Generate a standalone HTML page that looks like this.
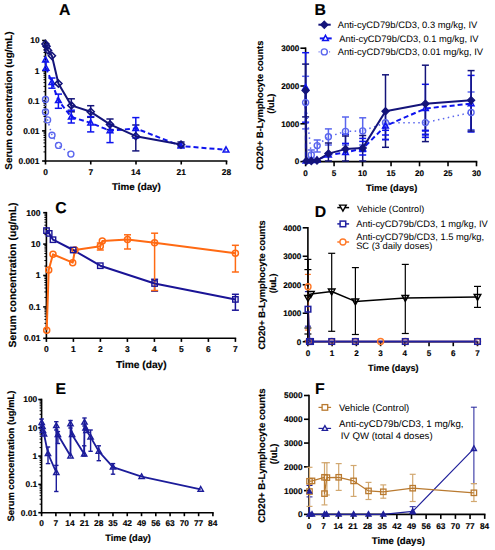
<!DOCTYPE html>
<html><head><meta charset="utf-8"><style>
html,body{margin:0;padding:0;background:#fff;}
svg{display:block;text-rendering:geometricPrecision;font-family:"Liberation Sans", sans-serif;}
text[font-weight]{stroke:#000;stroke-width:0.15px;}
</style></head><body>
<svg width="495" height="550" viewBox="0 0 495 550">
<rect width="495" height="550" fill="#fff"/>
<line x1="45.50" y1="161.80" x2="45.50" y2="39.70" stroke="#000" stroke-width="1.6" stroke-linecap="butt"/>
<line x1="44.70" y1="161.00" x2="227.30" y2="161.00" stroke="#000" stroke-width="1.6" stroke-linecap="butt"/>
<line x1="45.50" y1="161.00" x2="45.50" y2="164.50" stroke="#000" stroke-width="1.6" stroke-linecap="butt"/>
<text x="43.19" y="174.70" font-size="8.40" font-weight="bold" fill="#000" xml:space="preserve">0</text>
<line x1="90.75" y1="161.00" x2="90.75" y2="164.50" stroke="#000" stroke-width="1.6" stroke-linecap="butt"/>
<text x="88.44" y="174.70" font-size="8.40" font-weight="bold" fill="#000" xml:space="preserve">7</text>
<line x1="136.00" y1="161.00" x2="136.00" y2="164.50" stroke="#000" stroke-width="1.6" stroke-linecap="butt"/>
<text x="131.09" y="174.70" font-size="8.40" font-weight="bold" fill="#000" xml:space="preserve">14</text>
<line x1="181.25" y1="161.00" x2="181.25" y2="164.50" stroke="#000" stroke-width="1.6" stroke-linecap="butt"/>
<text x="176.59" y="174.70" font-size="8.40" font-weight="bold" fill="#000" xml:space="preserve">21</text>
<line x1="226.50" y1="161.00" x2="226.50" y2="164.50" stroke="#000" stroke-width="1.6" stroke-linecap="butt"/>
<text x="221.84" y="174.70" font-size="8.40" font-weight="bold" fill="#000" xml:space="preserve">28</text>
<line x1="45.50" y1="40.50" x2="42.10" y2="40.50" stroke="#000" stroke-width="1.6" stroke-linecap="butt"/>
<text x="30.31" y="43.44" font-size="8.40" font-weight="bold" fill="#000" xml:space="preserve">10</text>
<line x1="45.50" y1="70.62" x2="42.10" y2="70.62" stroke="#000" stroke-width="1.6" stroke-linecap="butt"/>
<text x="34.85" y="73.56" font-size="8.40" font-weight="bold" fill="#000" xml:space="preserve">1</text>
<line x1="45.50" y1="100.75" x2="42.10" y2="100.75" stroke="#000" stroke-width="1.6" stroke-linecap="butt"/>
<text x="27.88" y="103.69" font-size="8.40" font-weight="bold" fill="#000" xml:space="preserve">0.1</text>
<line x1="45.50" y1="130.88" x2="42.10" y2="130.88" stroke="#000" stroke-width="1.6" stroke-linecap="butt"/>
<text x="23.17" y="133.81" font-size="8.40" font-weight="bold" fill="#000" xml:space="preserve">0.01</text>
<line x1="45.50" y1="161.00" x2="42.10" y2="161.00" stroke="#000" stroke-width="1.6" stroke-linecap="butt"/>
<text x="18.47" y="163.94" font-size="8.40" font-weight="bold" fill="#000" xml:space="preserve">0.001</text>
<line x1="45.50" y1="151.93" x2="43.50" y2="151.93" stroke="#000" stroke-width="1" stroke-linecap="butt"/>
<line x1="45.50" y1="146.63" x2="43.50" y2="146.63" stroke="#000" stroke-width="1" stroke-linecap="butt"/>
<line x1="45.50" y1="142.86" x2="43.50" y2="142.86" stroke="#000" stroke-width="1" stroke-linecap="butt"/>
<line x1="45.50" y1="139.94" x2="43.50" y2="139.94" stroke="#000" stroke-width="1" stroke-linecap="butt"/>
<line x1="45.50" y1="137.56" x2="43.50" y2="137.56" stroke="#000" stroke-width="1" stroke-linecap="butt"/>
<line x1="45.50" y1="135.54" x2="43.50" y2="135.54" stroke="#000" stroke-width="1" stroke-linecap="butt"/>
<line x1="45.50" y1="133.79" x2="43.50" y2="133.79" stroke="#000" stroke-width="1" stroke-linecap="butt"/>
<line x1="45.50" y1="132.25" x2="43.50" y2="132.25" stroke="#000" stroke-width="1" stroke-linecap="butt"/>
<line x1="45.50" y1="121.81" x2="43.50" y2="121.81" stroke="#000" stroke-width="1" stroke-linecap="butt"/>
<line x1="45.50" y1="116.50" x2="43.50" y2="116.50" stroke="#000" stroke-width="1" stroke-linecap="butt"/>
<line x1="45.50" y1="112.74" x2="43.50" y2="112.74" stroke="#000" stroke-width="1" stroke-linecap="butt"/>
<line x1="45.50" y1="109.82" x2="43.50" y2="109.82" stroke="#000" stroke-width="1" stroke-linecap="butt"/>
<line x1="45.50" y1="107.43" x2="43.50" y2="107.43" stroke="#000" stroke-width="1" stroke-linecap="butt"/>
<line x1="45.50" y1="105.42" x2="43.50" y2="105.42" stroke="#000" stroke-width="1" stroke-linecap="butt"/>
<line x1="45.50" y1="103.67" x2="43.50" y2="103.67" stroke="#000" stroke-width="1" stroke-linecap="butt"/>
<line x1="45.50" y1="102.13" x2="43.50" y2="102.13" stroke="#000" stroke-width="1" stroke-linecap="butt"/>
<line x1="45.50" y1="91.68" x2="43.50" y2="91.68" stroke="#000" stroke-width="1" stroke-linecap="butt"/>
<line x1="45.50" y1="86.38" x2="43.50" y2="86.38" stroke="#000" stroke-width="1" stroke-linecap="butt"/>
<line x1="45.50" y1="82.61" x2="43.50" y2="82.61" stroke="#000" stroke-width="1" stroke-linecap="butt"/>
<line x1="45.50" y1="79.69" x2="43.50" y2="79.69" stroke="#000" stroke-width="1" stroke-linecap="butt"/>
<line x1="45.50" y1="77.31" x2="43.50" y2="77.31" stroke="#000" stroke-width="1" stroke-linecap="butt"/>
<line x1="45.50" y1="75.29" x2="43.50" y2="75.29" stroke="#000" stroke-width="1" stroke-linecap="butt"/>
<line x1="45.50" y1="73.54" x2="43.50" y2="73.54" stroke="#000" stroke-width="1" stroke-linecap="butt"/>
<line x1="45.50" y1="72.00" x2="43.50" y2="72.00" stroke="#000" stroke-width="1" stroke-linecap="butt"/>
<line x1="45.50" y1="61.56" x2="43.50" y2="61.56" stroke="#000" stroke-width="1" stroke-linecap="butt"/>
<line x1="45.50" y1="56.25" x2="43.50" y2="56.25" stroke="#000" stroke-width="1" stroke-linecap="butt"/>
<line x1="45.50" y1="52.49" x2="43.50" y2="52.49" stroke="#000" stroke-width="1" stroke-linecap="butt"/>
<line x1="45.50" y1="49.57" x2="43.50" y2="49.57" stroke="#000" stroke-width="1" stroke-linecap="butt"/>
<line x1="45.50" y1="47.18" x2="43.50" y2="47.18" stroke="#000" stroke-width="1" stroke-linecap="butt"/>
<line x1="45.50" y1="45.17" x2="43.50" y2="45.17" stroke="#000" stroke-width="1" stroke-linecap="butt"/>
<line x1="45.50" y1="43.42" x2="43.50" y2="43.42" stroke="#000" stroke-width="1" stroke-linecap="butt"/>
<line x1="45.50" y1="41.88" x2="43.50" y2="41.88" stroke="#000" stroke-width="1" stroke-linecap="butt"/>
<text x="111.90" y="190.40" font-size="9.84" font-weight="bold" fill="#000" xml:space="preserve">Time (day)</text>
<text x="12.00" y="169.73" font-size="9.93" font-weight="bold" fill="#000" transform="rotate(-90 12.00 169.73)" xml:space="preserve">Serum concentration (ug/mL)</text>
<text x="59.03" y="15.10" font-size="15.80" font-weight="bold" fill="#000" xml:space="preserve">A</text>
<line x1="71.30" y1="98.80" x2="71.30" y2="111.80" stroke="#14147a" stroke-width="1.5" stroke-linecap="butt"/>
<line x1="67.70" y1="98.80" x2="74.90" y2="98.80" stroke="#14147a" stroke-width="1.5" stroke-linecap="butt"/>
<line x1="67.70" y1="111.80" x2="74.90" y2="111.80" stroke="#14147a" stroke-width="1.5" stroke-linecap="butt"/>
<line x1="90.70" y1="105.70" x2="90.70" y2="117.30" stroke="#14147a" stroke-width="1.5" stroke-linecap="butt"/>
<line x1="87.10" y1="105.70" x2="94.30" y2="105.70" stroke="#14147a" stroke-width="1.5" stroke-linecap="butt"/>
<line x1="87.10" y1="117.30" x2="94.30" y2="117.30" stroke="#14147a" stroke-width="1.5" stroke-linecap="butt"/>
<line x1="110.00" y1="119.00" x2="110.00" y2="129.60" stroke="#14147a" stroke-width="1.5" stroke-linecap="butt"/>
<line x1="106.40" y1="119.00" x2="113.60" y2="119.00" stroke="#14147a" stroke-width="1.5" stroke-linecap="butt"/>
<line x1="106.40" y1="129.60" x2="113.60" y2="129.60" stroke="#14147a" stroke-width="1.5" stroke-linecap="butt"/>
<line x1="135.80" y1="125.00" x2="135.80" y2="150.90" stroke="#14147a" stroke-width="1.5" stroke-linecap="butt"/>
<line x1="132.20" y1="125.00" x2="139.40" y2="125.00" stroke="#14147a" stroke-width="1.5" stroke-linecap="butt"/>
<line x1="132.20" y1="150.90" x2="139.40" y2="150.90" stroke="#14147a" stroke-width="1.5" stroke-linecap="butt"/>
<line x1="181.00" y1="142.00" x2="181.00" y2="147.00" stroke="#14147a" stroke-width="1.5" stroke-linecap="butt"/>
<line x1="177.40" y1="142.00" x2="184.60" y2="142.00" stroke="#14147a" stroke-width="1.5" stroke-linecap="butt"/>
<line x1="177.40" y1="147.00" x2="184.60" y2="147.00" stroke="#14147a" stroke-width="1.5" stroke-linecap="butt"/>
<line x1="51.90" y1="78.00" x2="51.90" y2="88.20" stroke="#0f14ee" stroke-width="1.5" stroke-linecap="butt"/>
<line x1="48.30" y1="78.00" x2="55.50" y2="78.00" stroke="#0f14ee" stroke-width="1.5" stroke-linecap="butt"/>
<line x1="48.30" y1="88.20" x2="55.50" y2="88.20" stroke="#0f14ee" stroke-width="1.5" stroke-linecap="butt"/>
<line x1="58.40" y1="94.10" x2="58.40" y2="108.30" stroke="#0f14ee" stroke-width="1.5" stroke-linecap="butt"/>
<line x1="54.80" y1="94.10" x2="62.00" y2="94.10" stroke="#0f14ee" stroke-width="1.5" stroke-linecap="butt"/>
<line x1="54.80" y1="108.30" x2="62.00" y2="108.30" stroke="#0f14ee" stroke-width="1.5" stroke-linecap="butt"/>
<line x1="71.30" y1="110.20" x2="71.30" y2="123.00" stroke="#0f14ee" stroke-width="1.5" stroke-linecap="butt"/>
<line x1="67.70" y1="110.20" x2="74.90" y2="110.20" stroke="#0f14ee" stroke-width="1.5" stroke-linecap="butt"/>
<line x1="67.70" y1="123.00" x2="74.90" y2="123.00" stroke="#0f14ee" stroke-width="1.5" stroke-linecap="butt"/>
<line x1="90.70" y1="116.60" x2="90.70" y2="131.90" stroke="#0f14ee" stroke-width="1.5" stroke-linecap="butt"/>
<line x1="87.10" y1="116.60" x2="94.30" y2="116.60" stroke="#0f14ee" stroke-width="1.5" stroke-linecap="butt"/>
<line x1="87.10" y1="131.90" x2="94.30" y2="131.90" stroke="#0f14ee" stroke-width="1.5" stroke-linecap="butt"/>
<line x1="110.00" y1="124.40" x2="110.00" y2="142.60" stroke="#0f14ee" stroke-width="1.5" stroke-linecap="butt"/>
<line x1="106.40" y1="124.40" x2="113.60" y2="124.40" stroke="#0f14ee" stroke-width="1.5" stroke-linecap="butt"/>
<line x1="106.40" y1="142.60" x2="113.60" y2="142.60" stroke="#0f14ee" stroke-width="1.5" stroke-linecap="butt"/>
<line x1="135.80" y1="117.60" x2="135.80" y2="138.00" stroke="#0f14ee" stroke-width="1.5" stroke-linecap="butt"/>
<line x1="132.20" y1="117.60" x2="139.40" y2="117.60" stroke="#0f14ee" stroke-width="1.5" stroke-linecap="butt"/>
<line x1="132.20" y1="138.00" x2="139.40" y2="138.00" stroke="#0f14ee" stroke-width="1.5" stroke-linecap="butt"/>
<polyline points="45.50,99.50 45.50,111.90 47.60,119.90 52.00,135.20 58.50,145.40 70.90,154.10" fill="none" stroke="#5a66ee" stroke-width="1.5" stroke-linecap="butt" stroke-linejoin="round" stroke-dasharray="1.5,3.5"/>
<polyline points="45.50,59.80 46.00,68.10 51.90,82.30 58.40,100.50 71.30,117.00 90.70,122.90 110.00,130.70 135.80,128.40 181.00,146.00 226.00,149.80" fill="none" stroke="#0f14ee" stroke-width="2" stroke-linecap="butt" stroke-linejoin="round" stroke-dasharray="5,3"/>
<polyline points="45.50,44.00 46.50,46.30 48.00,50.40 51.90,55.80 58.40,83.50 71.30,105.40 90.70,111.80 110.00,124.40 135.80,136.20 181.00,144.60" fill="none" stroke="#14147a" stroke-width="2" stroke-linecap="butt" stroke-linejoin="round"/>
<circle cx="45.50" cy="99.50" r="3.0" fill="none" stroke="#5a66ee" stroke-width="1.4"/>
<circle cx="45.50" cy="111.90" r="3.0" fill="none" stroke="#5a66ee" stroke-width="1.4"/>
<circle cx="47.60" cy="119.90" r="3.0" fill="none" stroke="#5a66ee" stroke-width="1.4"/>
<circle cx="52.00" cy="135.20" r="3.0" fill="none" stroke="#5a66ee" stroke-width="1.4"/>
<circle cx="58.50" cy="145.40" r="3.0" fill="none" stroke="#5a66ee" stroke-width="1.4"/>
<circle cx="70.90" cy="154.10" r="3.0" fill="none" stroke="#5a66ee" stroke-width="1.4"/>
<polygon points="45.50,56.80 48.35,61.90 42.65,61.90" fill="none" stroke="#0f14ee" stroke-width="1.5"/>
<polygon points="46.00,65.10 48.85,70.20 43.15,70.20" fill="none" stroke="#0f14ee" stroke-width="1.5"/>
<polygon points="51.90,79.30 54.75,84.40 49.05,84.40" fill="none" stroke="#0f14ee" stroke-width="1.5"/>
<polygon points="58.40,97.50 61.25,102.60 55.55,102.60" fill="none" stroke="#0f14ee" stroke-width="1.5"/>
<polygon points="71.30,114.00 74.15,119.10 68.45,119.10" fill="none" stroke="#0f14ee" stroke-width="1.5"/>
<polygon points="90.70,119.90 93.55,125.00 87.85,125.00" fill="none" stroke="#0f14ee" stroke-width="1.5"/>
<polygon points="110.00,127.70 112.85,132.80 107.15,132.80" fill="none" stroke="#0f14ee" stroke-width="1.5"/>
<polygon points="135.80,125.40 138.65,130.50 132.95,130.50" fill="none" stroke="#0f14ee" stroke-width="1.5"/>
<polygon points="181.00,143.00 183.85,148.10 178.15,148.10" fill="none" stroke="#0f14ee" stroke-width="1.5"/>
<polygon points="226.00,146.80 228.85,151.90 223.15,151.90" fill="none" stroke="#0f14ee" stroke-width="1.5"/>
<polygon points="45.50,40.50 49.00,44.00 45.50,47.50 42.00,44.00" fill="none" stroke="#14147a" stroke-width="1.6"/>
<polygon points="46.50,42.80 50.00,46.30 46.50,49.80 43.00,46.30" fill="none" stroke="#14147a" stroke-width="1.6"/>
<polygon points="48.00,46.90 51.50,50.40 48.00,53.90 44.50,50.40" fill="none" stroke="#14147a" stroke-width="1.6"/>
<polygon points="51.90,52.30 55.40,55.80 51.90,59.30 48.40,55.80" fill="none" stroke="#14147a" stroke-width="1.6"/>
<polygon points="58.40,80.00 61.90,83.50 58.40,87.00 54.90,83.50" fill="none" stroke="#14147a" stroke-width="1.6"/>
<polygon points="71.30,101.90 74.80,105.40 71.30,108.90 67.80,105.40" fill="none" stroke="#14147a" stroke-width="1.6"/>
<polygon points="90.70,108.30 94.20,111.80 90.70,115.30 87.20,111.80" fill="none" stroke="#14147a" stroke-width="1.6"/>
<polygon points="110.00,120.90 113.50,124.40 110.00,127.90 106.50,124.40" fill="none" stroke="#14147a" stroke-width="1.6"/>
<polygon points="135.80,132.70 139.30,136.20 135.80,139.70 132.30,136.20" fill="none" stroke="#14147a" stroke-width="1.6"/>
<polygon points="181.00,141.10 184.50,144.60 181.00,148.10 177.50,144.60" fill="none" stroke="#14147a" stroke-width="1.6"/>
<line x1="305.60" y1="162.40" x2="305.60" y2="47.40" stroke="#000" stroke-width="1.6" stroke-linecap="butt"/>
<line x1="304.80" y1="161.60" x2="477.30" y2="161.60" stroke="#000" stroke-width="1.6" stroke-linecap="butt"/>
<line x1="305.60" y1="161.60" x2="305.60" y2="166.30" stroke="#000" stroke-width="1.6" stroke-linecap="butt"/>
<text x="303.37" y="175.80" font-size="8.10" font-weight="bold" fill="#000" xml:space="preserve">0</text>
<line x1="334.08" y1="161.60" x2="334.08" y2="166.30" stroke="#000" stroke-width="1.6" stroke-linecap="butt"/>
<text x="331.82" y="175.80" font-size="8.10" font-weight="bold" fill="#000" xml:space="preserve">5</text>
<line x1="362.57" y1="161.60" x2="362.57" y2="166.30" stroke="#000" stroke-width="1.6" stroke-linecap="butt"/>
<text x="357.99" y="175.80" font-size="8.10" font-weight="bold" fill="#000" xml:space="preserve">10</text>
<line x1="391.05" y1="161.60" x2="391.05" y2="166.30" stroke="#000" stroke-width="1.6" stroke-linecap="butt"/>
<text x="386.43" y="175.80" font-size="8.10" font-weight="bold" fill="#000" xml:space="preserve">15</text>
<line x1="419.53" y1="161.60" x2="419.53" y2="166.30" stroke="#000" stroke-width="1.6" stroke-linecap="butt"/>
<text x="415.08" y="175.80" font-size="8.10" font-weight="bold" fill="#000" xml:space="preserve">20</text>
<line x1="448.02" y1="161.60" x2="448.02" y2="166.30" stroke="#000" stroke-width="1.6" stroke-linecap="butt"/>
<text x="443.52" y="175.80" font-size="8.10" font-weight="bold" fill="#000" xml:space="preserve">25</text>
<line x1="476.50" y1="161.60" x2="476.50" y2="166.30" stroke="#000" stroke-width="1.6" stroke-linecap="butt"/>
<text x="472.05" y="175.80" font-size="8.10" font-weight="bold" fill="#000" xml:space="preserve">30</text>
<line x1="305.60" y1="161.60" x2="300.40" y2="161.60" stroke="#000" stroke-width="1.6" stroke-linecap="butt"/>
<text x="294.67" y="164.44" font-size="8.10" font-weight="bold" fill="#000" xml:space="preserve">0</text>
<line x1="305.60" y1="123.80" x2="300.40" y2="123.80" stroke="#000" stroke-width="1.6" stroke-linecap="butt"/>
<text x="281.14" y="126.63" font-size="8.10" font-weight="bold" fill="#000" xml:space="preserve">1000</text>
<line x1="305.60" y1="86.00" x2="300.40" y2="86.00" stroke="#000" stroke-width="1.6" stroke-linecap="butt"/>
<text x="281.14" y="88.83" font-size="8.10" font-weight="bold" fill="#000" xml:space="preserve">2000</text>
<line x1="305.60" y1="48.20" x2="300.40" y2="48.20" stroke="#000" stroke-width="1.6" stroke-linecap="butt"/>
<text x="281.14" y="51.03" font-size="8.10" font-weight="bold" fill="#000" xml:space="preserve">3000</text>
<text x="365.91" y="190.60" font-size="9.27" font-weight="bold" fill="#000" xml:space="preserve">Time (days)</text>
<text x="263.40" y="169.71" font-size="9.30" font-weight="bold" fill="#000" transform="rotate(-90 263.40 169.71)" xml:space="preserve">CD20+ B-Lymphocyte counts</text>
<text x="274.30" y="113.69" font-size="9.30" font-weight="bold" fill="#000" transform="rotate(-90 274.30 113.69)" xml:space="preserve">(/uL)</text>
<text x="314.49" y="15.10" font-size="15.80" font-weight="bold" fill="#000" xml:space="preserve">B</text>
<line x1="318.40" y1="24.70" x2="330.70" y2="24.70" stroke="#14147a" stroke-width="2" stroke-linecap="butt"/>
<polygon points="324.30,21.10 327.90,24.70 324.30,28.30 320.70,24.70" fill="#14147a" stroke="#14147a" stroke-width="1.2"/>
<line x1="319.80" y1="38.40" x2="331.70" y2="38.40" stroke="#0f14ee" stroke-width="2" stroke-linecap="butt"/>
<polygon points="325.50,35.40 328.35,40.50 322.65,40.50" fill="#fff" stroke="#0f14ee" stroke-width="1.5"/>
<line x1="318.60" y1="51.90" x2="331.00" y2="51.90" stroke="#5a66ee" stroke-width="1.2" stroke-linecap="butt" stroke-dasharray="1,2.5"/>
<circle cx="324.30" cy="51.90" r="3.0" fill="#fff" stroke="#5a66ee" stroke-width="1.4"/>
<text x="337.70" y="28.00" font-size="9.39" fill="#000" xml:space="preserve">Anti-cyCD79b/CD3, 0.3 mg/kg, IV</text>
<text x="339.30" y="41.70" font-size="9.35" fill="#000" xml:space="preserve">Anti-cyCD79b/CD3, 0.1 mg/kg, IV</text>
<text x="337.70" y="54.60" font-size="9.42" fill="#000" xml:space="preserve">Anti-cyCD79b/CD3, 0.01 mg/kg, IV</text>
<line x1="305.60" y1="76.30" x2="305.60" y2="128.90" stroke="#5a66ee" stroke-width="1.5" stroke-linecap="butt"/>
<line x1="302.10" y1="76.30" x2="309.10" y2="76.30" stroke="#5a66ee" stroke-width="1.5" stroke-linecap="butt"/>
<line x1="302.10" y1="128.90" x2="309.10" y2="128.90" stroke="#5a66ee" stroke-width="1.5" stroke-linecap="butt"/>
<line x1="311.30" y1="150.00" x2="311.30" y2="158.00" stroke="#5a66ee" stroke-width="1.5" stroke-linecap="butt"/>
<line x1="307.80" y1="150.00" x2="314.80" y2="150.00" stroke="#5a66ee" stroke-width="1.5" stroke-linecap="butt"/>
<line x1="307.80" y1="158.00" x2="314.80" y2="158.00" stroke="#5a66ee" stroke-width="1.5" stroke-linecap="butt"/>
<line x1="317.20" y1="140.00" x2="317.20" y2="152.00" stroke="#5a66ee" stroke-width="1.5" stroke-linecap="butt"/>
<line x1="313.70" y1="140.00" x2="320.70" y2="140.00" stroke="#5a66ee" stroke-width="1.5" stroke-linecap="butt"/>
<line x1="313.70" y1="152.00" x2="320.70" y2="152.00" stroke="#5a66ee" stroke-width="1.5" stroke-linecap="butt"/>
<line x1="328.40" y1="128.90" x2="328.40" y2="145.00" stroke="#5a66ee" stroke-width="1.5" stroke-linecap="butt"/>
<line x1="324.90" y1="128.90" x2="331.90" y2="128.90" stroke="#5a66ee" stroke-width="1.5" stroke-linecap="butt"/>
<line x1="324.90" y1="145.00" x2="331.90" y2="145.00" stroke="#5a66ee" stroke-width="1.5" stroke-linecap="butt"/>
<line x1="345.50" y1="117.00" x2="345.50" y2="145.00" stroke="#5a66ee" stroke-width="1.5" stroke-linecap="butt"/>
<line x1="342.00" y1="117.00" x2="349.00" y2="117.00" stroke="#5a66ee" stroke-width="1.5" stroke-linecap="butt"/>
<line x1="342.00" y1="145.00" x2="349.00" y2="145.00" stroke="#5a66ee" stroke-width="1.5" stroke-linecap="butt"/>
<line x1="362.70" y1="117.80" x2="362.70" y2="145.00" stroke="#5a66ee" stroke-width="1.5" stroke-linecap="butt"/>
<line x1="359.20" y1="117.80" x2="366.20" y2="117.80" stroke="#5a66ee" stroke-width="1.5" stroke-linecap="butt"/>
<line x1="359.20" y1="145.00" x2="366.20" y2="145.00" stroke="#5a66ee" stroke-width="1.5" stroke-linecap="butt"/>
<line x1="425.40" y1="110.00" x2="425.40" y2="135.60" stroke="#5a66ee" stroke-width="1.5" stroke-linecap="butt"/>
<line x1="421.90" y1="110.00" x2="428.90" y2="110.00" stroke="#5a66ee" stroke-width="1.5" stroke-linecap="butt"/>
<line x1="421.90" y1="135.60" x2="428.90" y2="135.60" stroke="#5a66ee" stroke-width="1.5" stroke-linecap="butt"/>
<line x1="471.10" y1="92.00" x2="471.10" y2="129.70" stroke="#5a66ee" stroke-width="1.5" stroke-linecap="butt"/>
<line x1="467.60" y1="92.00" x2="474.60" y2="92.00" stroke="#5a66ee" stroke-width="1.5" stroke-linecap="butt"/>
<line x1="467.60" y1="129.70" x2="474.60" y2="129.70" stroke="#5a66ee" stroke-width="1.5" stroke-linecap="butt"/>
<line x1="305.60" y1="52.70" x2="305.60" y2="122.20" stroke="#0f14ee" stroke-width="1.5" stroke-linecap="butt"/>
<line x1="302.10" y1="52.70" x2="309.10" y2="52.70" stroke="#0f14ee" stroke-width="1.5" stroke-linecap="butt"/>
<line x1="302.10" y1="122.20" x2="309.10" y2="122.20" stroke="#0f14ee" stroke-width="1.5" stroke-linecap="butt"/>
<line x1="385.50" y1="111.00" x2="385.50" y2="139.70" stroke="#0f14ee" stroke-width="1.5" stroke-linecap="butt"/>
<line x1="382.00" y1="111.00" x2="389.00" y2="111.00" stroke="#0f14ee" stroke-width="1.5" stroke-linecap="butt"/>
<line x1="382.00" y1="139.70" x2="389.00" y2="139.70" stroke="#0f14ee" stroke-width="1.5" stroke-linecap="butt"/>
<line x1="425.40" y1="84.30" x2="425.40" y2="131.00" stroke="#0f14ee" stroke-width="1.5" stroke-linecap="butt"/>
<line x1="421.90" y1="84.30" x2="428.90" y2="84.30" stroke="#0f14ee" stroke-width="1.5" stroke-linecap="butt"/>
<line x1="421.90" y1="131.00" x2="428.90" y2="131.00" stroke="#0f14ee" stroke-width="1.5" stroke-linecap="butt"/>
<line x1="471.10" y1="75.40" x2="471.10" y2="132.00" stroke="#0f14ee" stroke-width="1.5" stroke-linecap="butt"/>
<line x1="467.60" y1="75.40" x2="474.60" y2="75.40" stroke="#0f14ee" stroke-width="1.5" stroke-linecap="butt"/>
<line x1="467.60" y1="132.00" x2="474.60" y2="132.00" stroke="#0f14ee" stroke-width="1.5" stroke-linecap="butt"/>
<line x1="305.60" y1="64.10" x2="305.60" y2="116.90" stroke="#14147a" stroke-width="1.5" stroke-linecap="butt"/>
<line x1="302.10" y1="64.10" x2="309.10" y2="64.10" stroke="#14147a" stroke-width="1.5" stroke-linecap="butt"/>
<line x1="302.10" y1="116.90" x2="309.10" y2="116.90" stroke="#14147a" stroke-width="1.5" stroke-linecap="butt"/>
<line x1="328.40" y1="143.00" x2="328.40" y2="161.00" stroke="#14147a" stroke-width="1.5" stroke-linecap="butt"/>
<line x1="324.90" y1="143.00" x2="331.90" y2="143.00" stroke="#14147a" stroke-width="1.5" stroke-linecap="butt"/>
<line x1="324.90" y1="161.00" x2="331.90" y2="161.00" stroke="#14147a" stroke-width="1.5" stroke-linecap="butt"/>
<line x1="345.50" y1="136.00" x2="345.50" y2="161.00" stroke="#14147a" stroke-width="1.5" stroke-linecap="butt"/>
<line x1="342.00" y1="136.00" x2="349.00" y2="136.00" stroke="#14147a" stroke-width="1.5" stroke-linecap="butt"/>
<line x1="342.00" y1="161.00" x2="349.00" y2="161.00" stroke="#14147a" stroke-width="1.5" stroke-linecap="butt"/>
<line x1="362.70" y1="135.50" x2="362.70" y2="161.00" stroke="#14147a" stroke-width="1.5" stroke-linecap="butt"/>
<line x1="359.20" y1="135.50" x2="366.20" y2="135.50" stroke="#14147a" stroke-width="1.5" stroke-linecap="butt"/>
<line x1="359.20" y1="161.00" x2="366.20" y2="161.00" stroke="#14147a" stroke-width="1.5" stroke-linecap="butt"/>
<line x1="385.50" y1="74.80" x2="385.50" y2="147.30" stroke="#14147a" stroke-width="1.5" stroke-linecap="butt"/>
<line x1="382.00" y1="74.80" x2="389.00" y2="74.80" stroke="#14147a" stroke-width="1.5" stroke-linecap="butt"/>
<line x1="382.00" y1="147.30" x2="389.00" y2="147.30" stroke="#14147a" stroke-width="1.5" stroke-linecap="butt"/>
<line x1="425.40" y1="65.20" x2="425.40" y2="141.60" stroke="#14147a" stroke-width="1.5" stroke-linecap="butt"/>
<line x1="421.90" y1="65.20" x2="428.90" y2="65.20" stroke="#14147a" stroke-width="1.5" stroke-linecap="butt"/>
<line x1="421.90" y1="141.60" x2="428.90" y2="141.60" stroke="#14147a" stroke-width="1.5" stroke-linecap="butt"/>
<line x1="471.10" y1="70.60" x2="471.10" y2="131.00" stroke="#14147a" stroke-width="1.5" stroke-linecap="butt"/>
<line x1="467.60" y1="70.60" x2="474.60" y2="70.60" stroke="#14147a" stroke-width="1.5" stroke-linecap="butt"/>
<line x1="467.60" y1="131.00" x2="474.60" y2="131.00" stroke="#14147a" stroke-width="1.5" stroke-linecap="butt"/>
<line x1="342.00" y1="134.30" x2="349.00" y2="134.30" stroke="#0f14ee" stroke-width="1.5" stroke-linecap="butt"/>
<line x1="342.00" y1="143.40" x2="349.00" y2="143.40" stroke="#0f14ee" stroke-width="1.5" stroke-linecap="butt"/>
<line x1="359.20" y1="138.40" x2="366.20" y2="138.40" stroke="#0f14ee" stroke-width="1.5" stroke-linecap="butt"/>
<line x1="359.20" y1="141.40" x2="366.20" y2="141.40" stroke="#0f14ee" stroke-width="1.5" stroke-linecap="butt"/>
<line x1="359.20" y1="151.50" x2="366.20" y2="151.50" stroke="#0f14ee" stroke-width="1.5" stroke-linecap="butt"/>
<line x1="359.20" y1="155.00" x2="366.20" y2="155.00" stroke="#0f14ee" stroke-width="1.5" stroke-linecap="butt"/>
<line x1="382.00" y1="130.30" x2="389.00" y2="130.30" stroke="#0f14ee" stroke-width="1.5" stroke-linecap="butt"/>
<line x1="382.00" y1="135.00" x2="389.00" y2="135.00" stroke="#0f14ee" stroke-width="1.5" stroke-linecap="butt"/>
<line x1="382.00" y1="139.40" x2="389.00" y2="139.40" stroke="#0f14ee" stroke-width="1.5" stroke-linecap="butt"/>
<line x1="421.90" y1="130.30" x2="428.90" y2="130.30" stroke="#0f14ee" stroke-width="1.5" stroke-linecap="butt"/>
<line x1="421.90" y1="134.30" x2="428.90" y2="134.30" stroke="#0f14ee" stroke-width="1.5" stroke-linecap="butt"/>
<line x1="421.90" y1="137.40" x2="428.90" y2="137.40" stroke="#0f14ee" stroke-width="1.5" stroke-linecap="butt"/>
<polyline points="305.60,102.60 311.30,154.90 317.20,145.60 328.40,136.70 345.50,131.40 362.70,130.90 385.50,122.80 425.40,122.60 471.10,112.50" fill="none" stroke="#5a66ee" stroke-width="1.5" stroke-linecap="butt" stroke-linejoin="round" stroke-dasharray="1.5,3.5"/>
<polyline points="305.60,87.50 306.00,161.00 311.30,160.50 317.00,160.00 328.40,154.90 345.50,152.40 362.70,148.60 385.50,125.90 425.40,108.50 471.10,103.70" fill="none" stroke="#0f14ee" stroke-width="2" stroke-linecap="butt" stroke-linejoin="round" stroke-dasharray="5,3"/>
<polyline points="305.60,90.50 306.50,161.00 311.30,161.00 317.00,160.50 328.40,153.60 345.50,149.10 362.70,148.10 385.50,111.20 425.40,103.70 471.10,100.20" fill="none" stroke="#14147a" stroke-width="2" stroke-linecap="butt" stroke-linejoin="round"/>
<circle cx="305.60" cy="102.60" r="3.0" fill="none" stroke="#5a66ee" stroke-width="1.4"/>
<circle cx="311.30" cy="154.90" r="3.0" fill="none" stroke="#5a66ee" stroke-width="1.4"/>
<circle cx="317.20" cy="145.60" r="3.0" fill="none" stroke="#5a66ee" stroke-width="1.4"/>
<circle cx="328.40" cy="136.70" r="3.0" fill="none" stroke="#5a66ee" stroke-width="1.4"/>
<circle cx="345.50" cy="131.40" r="3.0" fill="none" stroke="#5a66ee" stroke-width="1.4"/>
<circle cx="362.70" cy="130.90" r="3.0" fill="none" stroke="#5a66ee" stroke-width="1.4"/>
<circle cx="385.50" cy="122.80" r="3.0" fill="none" stroke="#5a66ee" stroke-width="1.4"/>
<circle cx="425.40" cy="122.60" r="3.0" fill="none" stroke="#5a66ee" stroke-width="1.4"/>
<circle cx="471.10" cy="112.50" r="3.0" fill="none" stroke="#5a66ee" stroke-width="1.4"/>
<polygon points="305.60,84.50 308.45,89.60 302.75,89.60" fill="none" stroke="#0f14ee" stroke-width="1.5"/>
<polygon points="306.00,158.00 308.85,163.10 303.15,163.10" fill="none" stroke="#0f14ee" stroke-width="1.5"/>
<polygon points="311.30,157.50 314.15,162.60 308.45,162.60" fill="none" stroke="#0f14ee" stroke-width="1.5"/>
<polygon points="317.00,157.00 319.85,162.10 314.15,162.10" fill="none" stroke="#0f14ee" stroke-width="1.5"/>
<polygon points="328.40,151.90 331.25,157.00 325.55,157.00" fill="none" stroke="#0f14ee" stroke-width="1.5"/>
<polygon points="345.50,149.40 348.35,154.50 342.65,154.50" fill="none" stroke="#0f14ee" stroke-width="1.5"/>
<polygon points="362.70,145.60 365.55,150.70 359.85,150.70" fill="none" stroke="#0f14ee" stroke-width="1.5"/>
<polygon points="385.50,122.90 388.35,128.00 382.65,128.00" fill="none" stroke="#0f14ee" stroke-width="1.5"/>
<polygon points="425.40,105.50 428.25,110.60 422.55,110.60" fill="none" stroke="#0f14ee" stroke-width="1.5"/>
<polygon points="471.10,100.70 473.95,105.80 468.25,105.80" fill="none" stroke="#0f14ee" stroke-width="1.5"/>
<polygon points="305.60,86.90 309.20,90.50 305.60,94.10 302.00,90.50" fill="#14147a" stroke="#14147a" stroke-width="1.2"/>
<polygon points="306.50,157.40 310.10,161.00 306.50,164.60 302.90,161.00" fill="#14147a" stroke="#14147a" stroke-width="1.2"/>
<polygon points="311.30,157.40 314.90,161.00 311.30,164.60 307.70,161.00" fill="#14147a" stroke="#14147a" stroke-width="1.2"/>
<polygon points="317.00,156.90 320.60,160.50 317.00,164.10 313.40,160.50" fill="#14147a" stroke="#14147a" stroke-width="1.2"/>
<polygon points="328.40,150.00 332.00,153.60 328.40,157.20 324.80,153.60" fill="#14147a" stroke="#14147a" stroke-width="1.2"/>
<polygon points="345.50,145.50 349.10,149.10 345.50,152.70 341.90,149.10" fill="#14147a" stroke="#14147a" stroke-width="1.2"/>
<polygon points="362.70,144.50 366.30,148.10 362.70,151.70 359.10,148.10" fill="#14147a" stroke="#14147a" stroke-width="1.2"/>
<polygon points="385.50,107.60 389.10,111.20 385.50,114.80 381.90,111.20" fill="#14147a" stroke="#14147a" stroke-width="1.2"/>
<polygon points="425.40,100.10 429.00,103.70 425.40,107.30 421.80,103.70" fill="#14147a" stroke="#14147a" stroke-width="1.2"/>
<polygon points="471.10,96.60 474.70,100.20 471.10,103.80 467.50,100.20" fill="#14147a" stroke="#14147a" stroke-width="1.2"/>
<line x1="46.40" y1="339.10" x2="46.40" y2="211.90" stroke="#000" stroke-width="1.6" stroke-linecap="butt"/>
<line x1="45.60" y1="338.30" x2="236.20" y2="338.30" stroke="#000" stroke-width="1.6" stroke-linecap="butt"/>
<line x1="46.40" y1="338.30" x2="46.40" y2="341.90" stroke="#000" stroke-width="1.6" stroke-linecap="butt"/>
<text x="44.06" y="351.80" font-size="8.50" font-weight="bold" fill="#000" xml:space="preserve">0</text>
<line x1="73.40" y1="338.30" x2="73.40" y2="341.90" stroke="#000" stroke-width="1.6" stroke-linecap="butt"/>
<text x="70.89" y="351.80" font-size="8.50" font-weight="bold" fill="#000" xml:space="preserve">1</text>
<line x1="100.40" y1="338.30" x2="100.40" y2="341.90" stroke="#000" stroke-width="1.6" stroke-linecap="butt"/>
<text x="98.06" y="351.80" font-size="8.50" font-weight="bold" fill="#000" xml:space="preserve">2</text>
<line x1="127.40" y1="338.30" x2="127.40" y2="341.90" stroke="#000" stroke-width="1.6" stroke-linecap="butt"/>
<text x="125.06" y="351.80" font-size="8.50" font-weight="bold" fill="#000" xml:space="preserve">3</text>
<line x1="154.40" y1="338.30" x2="154.40" y2="341.90" stroke="#000" stroke-width="1.6" stroke-linecap="butt"/>
<text x="151.98" y="351.80" font-size="8.50" font-weight="bold" fill="#000" xml:space="preserve">4</text>
<line x1="181.40" y1="338.30" x2="181.40" y2="341.90" stroke="#000" stroke-width="1.6" stroke-linecap="butt"/>
<text x="179.02" y="351.80" font-size="8.50" font-weight="bold" fill="#000" xml:space="preserve">5</text>
<line x1="208.40" y1="338.30" x2="208.40" y2="341.90" stroke="#000" stroke-width="1.6" stroke-linecap="butt"/>
<text x="206.02" y="351.80" font-size="8.50" font-weight="bold" fill="#000" xml:space="preserve">6</text>
<line x1="235.40" y1="338.30" x2="235.40" y2="341.90" stroke="#000" stroke-width="1.6" stroke-linecap="butt"/>
<text x="233.06" y="351.80" font-size="8.50" font-weight="bold" fill="#000" xml:space="preserve">7</text>
<line x1="46.40" y1="212.70" x2="43.20" y2="212.70" stroke="#000" stroke-width="1.6" stroke-linecap="butt"/>
<text x="26.35" y="215.67" font-size="8.50" font-weight="bold" fill="#000" xml:space="preserve">100</text>
<line x1="46.40" y1="244.10" x2="43.20" y2="244.10" stroke="#000" stroke-width="1.6" stroke-linecap="butt"/>
<text x="31.11" y="247.07" font-size="8.50" font-weight="bold" fill="#000" xml:space="preserve">10</text>
<line x1="46.40" y1="275.50" x2="43.20" y2="275.50" stroke="#000" stroke-width="1.6" stroke-linecap="butt"/>
<text x="35.70" y="278.48" font-size="8.50" font-weight="bold" fill="#000" xml:space="preserve">1</text>
<line x1="46.40" y1="306.90" x2="43.20" y2="306.90" stroke="#000" stroke-width="1.6" stroke-linecap="butt"/>
<text x="28.64" y="309.88" font-size="8.50" font-weight="bold" fill="#000" xml:space="preserve">0.1</text>
<line x1="46.40" y1="338.30" x2="43.20" y2="338.30" stroke="#000" stroke-width="1.6" stroke-linecap="butt"/>
<text x="23.88" y="341.28" font-size="8.50" font-weight="bold" fill="#000" xml:space="preserve">0.01</text>
<line x1="46.40" y1="328.85" x2="44.40" y2="328.85" stroke="#000" stroke-width="1" stroke-linecap="butt"/>
<line x1="46.40" y1="323.32" x2="44.40" y2="323.32" stroke="#000" stroke-width="1" stroke-linecap="butt"/>
<line x1="46.40" y1="319.40" x2="44.40" y2="319.40" stroke="#000" stroke-width="1" stroke-linecap="butt"/>
<line x1="46.40" y1="316.35" x2="44.40" y2="316.35" stroke="#000" stroke-width="1" stroke-linecap="butt"/>
<line x1="46.40" y1="313.87" x2="44.40" y2="313.87" stroke="#000" stroke-width="1" stroke-linecap="butt"/>
<line x1="46.40" y1="311.76" x2="44.40" y2="311.76" stroke="#000" stroke-width="1" stroke-linecap="butt"/>
<line x1="46.40" y1="309.94" x2="44.40" y2="309.94" stroke="#000" stroke-width="1" stroke-linecap="butt"/>
<line x1="46.40" y1="308.34" x2="44.40" y2="308.34" stroke="#000" stroke-width="1" stroke-linecap="butt"/>
<line x1="46.40" y1="297.45" x2="44.40" y2="297.45" stroke="#000" stroke-width="1" stroke-linecap="butt"/>
<line x1="46.40" y1="291.92" x2="44.40" y2="291.92" stroke="#000" stroke-width="1" stroke-linecap="butt"/>
<line x1="46.40" y1="288.00" x2="44.40" y2="288.00" stroke="#000" stroke-width="1" stroke-linecap="butt"/>
<line x1="46.40" y1="284.95" x2="44.40" y2="284.95" stroke="#000" stroke-width="1" stroke-linecap="butt"/>
<line x1="46.40" y1="282.47" x2="44.40" y2="282.47" stroke="#000" stroke-width="1" stroke-linecap="butt"/>
<line x1="46.40" y1="280.36" x2="44.40" y2="280.36" stroke="#000" stroke-width="1" stroke-linecap="butt"/>
<line x1="46.40" y1="278.54" x2="44.40" y2="278.54" stroke="#000" stroke-width="1" stroke-linecap="butt"/>
<line x1="46.40" y1="276.94" x2="44.40" y2="276.94" stroke="#000" stroke-width="1" stroke-linecap="butt"/>
<line x1="46.40" y1="266.05" x2="44.40" y2="266.05" stroke="#000" stroke-width="1" stroke-linecap="butt"/>
<line x1="46.40" y1="260.52" x2="44.40" y2="260.52" stroke="#000" stroke-width="1" stroke-linecap="butt"/>
<line x1="46.40" y1="256.60" x2="44.40" y2="256.60" stroke="#000" stroke-width="1" stroke-linecap="butt"/>
<line x1="46.40" y1="253.55" x2="44.40" y2="253.55" stroke="#000" stroke-width="1" stroke-linecap="butt"/>
<line x1="46.40" y1="251.07" x2="44.40" y2="251.07" stroke="#000" stroke-width="1" stroke-linecap="butt"/>
<line x1="46.40" y1="248.96" x2="44.40" y2="248.96" stroke="#000" stroke-width="1" stroke-linecap="butt"/>
<line x1="46.40" y1="247.14" x2="44.40" y2="247.14" stroke="#000" stroke-width="1" stroke-linecap="butt"/>
<line x1="46.40" y1="245.54" x2="44.40" y2="245.54" stroke="#000" stroke-width="1" stroke-linecap="butt"/>
<line x1="46.40" y1="234.65" x2="44.40" y2="234.65" stroke="#000" stroke-width="1" stroke-linecap="butt"/>
<line x1="46.40" y1="229.12" x2="44.40" y2="229.12" stroke="#000" stroke-width="1" stroke-linecap="butt"/>
<line x1="46.40" y1="225.20" x2="44.40" y2="225.20" stroke="#000" stroke-width="1" stroke-linecap="butt"/>
<line x1="46.40" y1="222.15" x2="44.40" y2="222.15" stroke="#000" stroke-width="1" stroke-linecap="butt"/>
<line x1="46.40" y1="219.67" x2="44.40" y2="219.67" stroke="#000" stroke-width="1" stroke-linecap="butt"/>
<line x1="46.40" y1="217.56" x2="44.40" y2="217.56" stroke="#000" stroke-width="1" stroke-linecap="butt"/>
<line x1="46.40" y1="215.74" x2="44.40" y2="215.74" stroke="#000" stroke-width="1" stroke-linecap="butt"/>
<line x1="46.40" y1="214.14" x2="44.40" y2="214.14" stroke="#000" stroke-width="1" stroke-linecap="butt"/>
<text x="115.90" y="368.00" font-size="10.20" font-weight="bold" fill="#000" xml:space="preserve">Time (day)</text>
<text x="15.60" y="347.54" font-size="10.42" font-weight="bold" fill="#000" transform="rotate(-90 15.60 347.54)" xml:space="preserve">Serum concentration (ug/mL)</text>
<text x="55.17" y="212.90" font-size="15.80" font-weight="bold" fill="#000" xml:space="preserve">C</text>
<line x1="154.60" y1="279.30" x2="154.60" y2="291.10" stroke="#1a1496" stroke-width="1.5" stroke-linecap="butt"/>
<line x1="151.10" y1="279.30" x2="158.10" y2="279.30" stroke="#1a1496" stroke-width="1.5" stroke-linecap="butt"/>
<line x1="151.10" y1="291.10" x2="158.10" y2="291.10" stroke="#1a1496" stroke-width="1.5" stroke-linecap="butt"/>
<line x1="235.40" y1="294.30" x2="235.40" y2="310.20" stroke="#1a1496" stroke-width="1.5" stroke-linecap="butt"/>
<line x1="231.90" y1="294.30" x2="238.90" y2="294.30" stroke="#1a1496" stroke-width="1.5" stroke-linecap="butt"/>
<line x1="231.90" y1="310.20" x2="238.90" y2="310.20" stroke="#1a1496" stroke-width="1.5" stroke-linecap="butt"/>
<line x1="127.50" y1="234.80" x2="127.50" y2="249.00" stroke="#ff6a13" stroke-width="1.5" stroke-linecap="butt"/>
<line x1="124.00" y1="234.80" x2="131.00" y2="234.80" stroke="#ff6a13" stroke-width="1.5" stroke-linecap="butt"/>
<line x1="124.00" y1="249.00" x2="131.00" y2="249.00" stroke="#ff6a13" stroke-width="1.5" stroke-linecap="butt"/>
<line x1="154.60" y1="233.20" x2="154.60" y2="290.50" stroke="#ff6a13" stroke-width="1.5" stroke-linecap="butt"/>
<line x1="151.10" y1="233.20" x2="158.10" y2="233.20" stroke="#ff6a13" stroke-width="1.5" stroke-linecap="butt"/>
<line x1="151.10" y1="290.50" x2="158.10" y2="290.50" stroke="#ff6a13" stroke-width="1.5" stroke-linecap="butt"/>
<line x1="235.40" y1="245.30" x2="235.40" y2="272.00" stroke="#ff6a13" stroke-width="1.5" stroke-linecap="butt"/>
<line x1="231.90" y1="245.30" x2="238.90" y2="245.30" stroke="#ff6a13" stroke-width="1.5" stroke-linecap="butt"/>
<line x1="231.90" y1="272.00" x2="238.90" y2="272.00" stroke="#ff6a13" stroke-width="1.5" stroke-linecap="butt"/>
<line x1="100.30" y1="243.00" x2="100.30" y2="250.00" stroke="#ff6a13" stroke-width="1.5" stroke-linecap="butt"/>
<line x1="96.80" y1="243.00" x2="103.80" y2="243.00" stroke="#ff6a13" stroke-width="1.5" stroke-linecap="butt"/>
<line x1="96.80" y1="250.00" x2="103.80" y2="250.00" stroke="#ff6a13" stroke-width="1.5" stroke-linecap="butt"/>
<polyline points="46.70,330.20 48.70,270.00 53.00,254.30 72.70,262.70 75.00,250.00 100.30,246.30 102.30,241.00 127.50,239.50 154.60,242.70 235.40,253.20" fill="none" stroke="#ff6a13" stroke-width="2" stroke-linecap="butt" stroke-linejoin="round"/>
<polyline points="46.50,230.60 49.20,233.40 53.00,239.70 73.20,250.00 100.30,265.70 154.60,283.50 235.40,299.40" fill="none" stroke="#1a1496" stroke-width="2" stroke-linecap="butt" stroke-linejoin="round"/>
<circle cx="46.70" cy="330.20" r="3.0" fill="none" stroke="#ff6a13" stroke-width="1.5"/>
<circle cx="48.70" cy="270.00" r="3.0" fill="none" stroke="#ff6a13" stroke-width="1.5"/>
<circle cx="53.00" cy="254.30" r="3.0" fill="none" stroke="#ff6a13" stroke-width="1.5"/>
<circle cx="72.70" cy="262.70" r="3.0" fill="none" stroke="#ff6a13" stroke-width="1.5"/>
<circle cx="75.00" cy="250.00" r="3.0" fill="none" stroke="#ff6a13" stroke-width="1.5"/>
<circle cx="100.30" cy="246.30" r="3.0" fill="none" stroke="#ff6a13" stroke-width="1.5"/>
<circle cx="102.30" cy="241.00" r="3.0" fill="none" stroke="#ff6a13" stroke-width="1.5"/>
<circle cx="127.50" cy="239.50" r="3.0" fill="none" stroke="#ff6a13" stroke-width="1.5"/>
<circle cx="154.60" cy="242.70" r="3.0" fill="none" stroke="#ff6a13" stroke-width="1.5"/>
<circle cx="235.40" cy="253.20" r="3.0" fill="none" stroke="#ff6a13" stroke-width="1.5"/>
<rect x="43.80" y="227.90" width="5.40" height="5.40" fill="none" stroke="#1a1496" stroke-width="1.4"/>
<rect x="46.50" y="230.70" width="5.40" height="5.40" fill="none" stroke="#1a1496" stroke-width="1.4"/>
<rect x="50.30" y="237.00" width="5.40" height="5.40" fill="none" stroke="#1a1496" stroke-width="1.4"/>
<rect x="70.50" y="247.30" width="5.40" height="5.40" fill="none" stroke="#1a1496" stroke-width="1.4"/>
<rect x="97.60" y="263.00" width="5.40" height="5.40" fill="none" stroke="#1a1496" stroke-width="1.4"/>
<rect x="151.90" y="280.80" width="5.40" height="5.40" fill="none" stroke="#1a1496" stroke-width="1.4"/>
<rect x="232.70" y="296.70" width="5.40" height="5.40" fill="none" stroke="#1a1496" stroke-width="1.4"/>
<line x1="307.90" y1="342.50" x2="307.90" y2="227.00" stroke="#000" stroke-width="1.6" stroke-linecap="butt"/>
<line x1="307.10" y1="341.70" x2="478.30" y2="341.70" stroke="#000" stroke-width="1.6" stroke-linecap="butt"/>
<line x1="307.90" y1="341.70" x2="307.90" y2="346.20" stroke="#000" stroke-width="1.6" stroke-linecap="butt"/>
<text x="305.67" y="355.50" font-size="8.10" font-weight="bold" fill="#000" xml:space="preserve">0</text>
<line x1="332.13" y1="341.70" x2="332.13" y2="346.20" stroke="#000" stroke-width="1.6" stroke-linecap="butt"/>
<text x="329.74" y="355.50" font-size="8.10" font-weight="bold" fill="#000" xml:space="preserve">1</text>
<line x1="356.36" y1="341.70" x2="356.36" y2="346.20" stroke="#000" stroke-width="1.6" stroke-linecap="butt"/>
<text x="354.13" y="355.50" font-size="8.10" font-weight="bold" fill="#000" xml:space="preserve">2</text>
<line x1="380.59" y1="341.70" x2="380.59" y2="346.20" stroke="#000" stroke-width="1.6" stroke-linecap="butt"/>
<text x="378.36" y="355.50" font-size="8.10" font-weight="bold" fill="#000" xml:space="preserve">3</text>
<line x1="404.81" y1="341.70" x2="404.81" y2="346.20" stroke="#000" stroke-width="1.6" stroke-linecap="butt"/>
<text x="402.51" y="355.50" font-size="8.10" font-weight="bold" fill="#000" xml:space="preserve">4</text>
<line x1="429.04" y1="341.70" x2="429.04" y2="346.20" stroke="#000" stroke-width="1.6" stroke-linecap="butt"/>
<text x="426.77" y="355.50" font-size="8.10" font-weight="bold" fill="#000" xml:space="preserve">5</text>
<line x1="453.27" y1="341.70" x2="453.27" y2="346.20" stroke="#000" stroke-width="1.6" stroke-linecap="butt"/>
<text x="451.00" y="355.50" font-size="8.10" font-weight="bold" fill="#000" xml:space="preserve">6</text>
<line x1="477.50" y1="341.70" x2="477.50" y2="346.20" stroke="#000" stroke-width="1.6" stroke-linecap="butt"/>
<text x="475.27" y="355.50" font-size="8.10" font-weight="bold" fill="#000" xml:space="preserve">7</text>
<line x1="307.90" y1="341.70" x2="302.70" y2="341.70" stroke="#000" stroke-width="1.6" stroke-linecap="butt"/>
<text x="296.67" y="344.53" font-size="8.10" font-weight="bold" fill="#000" xml:space="preserve">0</text>
<line x1="307.90" y1="313.23" x2="302.70" y2="313.23" stroke="#000" stroke-width="1.6" stroke-linecap="butt"/>
<text x="283.14" y="316.06" font-size="8.10" font-weight="bold" fill="#000" xml:space="preserve">1000</text>
<line x1="307.90" y1="284.75" x2="302.70" y2="284.75" stroke="#000" stroke-width="1.6" stroke-linecap="butt"/>
<text x="283.14" y="287.58" font-size="8.10" font-weight="bold" fill="#000" xml:space="preserve">2000</text>
<line x1="307.90" y1="256.27" x2="302.70" y2="256.27" stroke="#000" stroke-width="1.6" stroke-linecap="butt"/>
<text x="283.14" y="259.11" font-size="8.10" font-weight="bold" fill="#000" xml:space="preserve">3000</text>
<line x1="307.90" y1="227.80" x2="302.70" y2="227.80" stroke="#000" stroke-width="1.6" stroke-linecap="butt"/>
<text x="283.14" y="230.64" font-size="8.10" font-weight="bold" fill="#000" xml:space="preserve">4000</text>
<text x="368.11" y="370.60" font-size="9.14" font-weight="bold" fill="#000" xml:space="preserve">Time (days)</text>
<text x="265.10" y="349.49" font-size="9.32" font-weight="bold" fill="#000" transform="rotate(-90 265.10 349.49)" xml:space="preserve">CD20+ B-Lymphocyte counts</text>
<text x="276.40" y="293.27" font-size="9.10" font-weight="bold" fill="#000" transform="rotate(-90 276.40 293.27)" xml:space="preserve">(/uL)</text>
<text x="314.69" y="217.20" font-size="15.80" font-weight="bold" fill="#000" xml:space="preserve">D</text>
<line x1="337.30" y1="207.60" x2="349.10" y2="207.60" stroke="#000" stroke-width="1.5" stroke-linecap="butt"/>
<polygon points="342.90,211.10 346.22,205.15 339.57,205.15" fill="#fff" stroke="#000" stroke-width="1.4"/>
<line x1="337.30" y1="223.90" x2="349.10" y2="223.90" stroke="#2020a0" stroke-width="1.5" stroke-linecap="butt"/>
<rect x="340.10" y="221.10" width="5.60" height="5.60" fill="#fff" stroke="#2020a0" stroke-width="1.5"/>
<line x1="337.30" y1="242.00" x2="349.10" y2="242.00" stroke="#ff7a2a" stroke-width="1.5" stroke-linecap="butt"/>
<circle cx="342.90" cy="242.00" r="3.0" fill="#fff" stroke="#ff7a2a" stroke-width="1.4"/>
<text x="357.01" y="212.00" font-size="9.10" fill="#000" xml:space="preserve">Vehicle (Control)</text>
<text x="356.20" y="226.60" font-size="9.37" fill="#000" xml:space="preserve">Anti-cyCD79b/CD3, 1 mg/kg, IV</text>
<text x="356.20" y="239.50" font-size="9.37" fill="#000" xml:space="preserve">Anti-cyCD79b/CD3, 1.5 mg/kg,</text>
<text x="356.13" y="249.20" font-size="9.34" fill="#000" xml:space="preserve">SC (3 daily doses)</text>
<line x1="307.90" y1="274.40" x2="307.90" y2="330.00" stroke="#ff7a2a" stroke-width="1.2" stroke-linecap="butt"/>
<line x1="304.90" y1="274.40" x2="310.90" y2="274.40" stroke="#ff7a2a" stroke-width="1.2" stroke-linecap="butt"/>
<line x1="304.90" y1="330.00" x2="310.90" y2="330.00" stroke="#ff7a2a" stroke-width="1.2" stroke-linecap="butt"/>
<line x1="307.90" y1="291.60" x2="307.90" y2="326.20" stroke="#2020a0" stroke-width="1.2" stroke-linecap="butt"/>
<line x1="304.90" y1="291.60" x2="310.90" y2="291.60" stroke="#2020a0" stroke-width="1.2" stroke-linecap="butt"/>
<line x1="304.90" y1="326.20" x2="310.90" y2="326.20" stroke="#2020a0" stroke-width="1.2" stroke-linecap="butt"/>
<line x1="307.90" y1="259.40" x2="307.90" y2="341.00" stroke="#000" stroke-width="1.2" stroke-linecap="butt"/>
<line x1="304.40" y1="259.40" x2="311.40" y2="259.40" stroke="#000" stroke-width="1.2" stroke-linecap="butt"/>
<line x1="304.40" y1="341.00" x2="311.40" y2="341.00" stroke="#000" stroke-width="1.2" stroke-linecap="butt"/>
<line x1="331.70" y1="253.30" x2="331.70" y2="331.30" stroke="#000" stroke-width="1.2" stroke-linecap="butt"/>
<line x1="328.20" y1="253.30" x2="335.20" y2="253.30" stroke="#000" stroke-width="1.2" stroke-linecap="butt"/>
<line x1="328.20" y1="331.30" x2="335.20" y2="331.30" stroke="#000" stroke-width="1.2" stroke-linecap="butt"/>
<line x1="355.40" y1="267.60" x2="355.40" y2="334.50" stroke="#000" stroke-width="1.2" stroke-linecap="butt"/>
<line x1="351.90" y1="267.60" x2="358.90" y2="267.60" stroke="#000" stroke-width="1.2" stroke-linecap="butt"/>
<line x1="351.90" y1="334.50" x2="358.90" y2="334.50" stroke="#000" stroke-width="1.2" stroke-linecap="butt"/>
<line x1="405.30" y1="264.40" x2="405.30" y2="333.50" stroke="#000" stroke-width="1.2" stroke-linecap="butt"/>
<line x1="401.80" y1="264.40" x2="408.80" y2="264.40" stroke="#000" stroke-width="1.2" stroke-linecap="butt"/>
<line x1="401.80" y1="333.50" x2="408.80" y2="333.50" stroke="#000" stroke-width="1.2" stroke-linecap="butt"/>
<line x1="477.50" y1="286.40" x2="477.50" y2="307.40" stroke="#000" stroke-width="1.2" stroke-linecap="butt"/>
<line x1="474.00" y1="286.40" x2="481.00" y2="286.40" stroke="#000" stroke-width="1.2" stroke-linecap="butt"/>
<line x1="474.00" y1="307.40" x2="481.00" y2="307.40" stroke="#000" stroke-width="1.2" stroke-linecap="butt"/>
<line x1="304.40" y1="269.60" x2="311.40" y2="269.60" stroke="#000" stroke-width="1.2" stroke-linecap="butt"/>
<line x1="304.40" y1="328.00" x2="311.40" y2="328.00" stroke="#000" stroke-width="1.2" stroke-linecap="butt"/>
<line x1="304.40" y1="334.00" x2="311.40" y2="334.00" stroke="#000" stroke-width="1.2" stroke-linecap="butt"/>
<polyline points="308.00,286.70 309.00,341.50 331.70,341.50 355.40,341.50 380.60,341.50 405.30,341.50 477.50,341.50" fill="none" stroke="#ff7a2a" stroke-width="1.5" stroke-linecap="butt" stroke-linejoin="round"/>
<polyline points="308.00,309.20 309.50,341.50 310.50,341.50 331.70,341.50 355.40,341.50 405.30,341.50 477.50,341.50" fill="none" stroke="#2020a0" stroke-width="1.8" stroke-linecap="butt" stroke-linejoin="round"/>
<polyline points="308.00,297.90 310.90,294.00 331.70,291.50 355.40,301.40 405.30,297.90 477.50,296.90" fill="none" stroke="#000" stroke-width="1.5" stroke-linecap="butt" stroke-linejoin="round"/>
<line x1="307.90" y1="259.40" x2="307.90" y2="341.00" stroke="#000" stroke-width="1.2" stroke-linecap="butt"/>
<circle cx="308.00" cy="286.70" r="3.0" fill="none" stroke="#ff7a2a" stroke-width="1.4"/>
<circle cx="309.00" cy="341.50" r="3.0" fill="none" stroke="#ff7a2a" stroke-width="1.4"/>
<circle cx="331.70" cy="341.50" r="3.0" fill="none" stroke="#ff7a2a" stroke-width="1.4"/>
<circle cx="355.40" cy="341.50" r="3.0" fill="none" stroke="#ff7a2a" stroke-width="1.4"/>
<circle cx="380.60" cy="341.50" r="3.0" fill="none" stroke="#ff7a2a" stroke-width="1.4"/>
<circle cx="405.30" cy="341.50" r="3.0" fill="none" stroke="#ff7a2a" stroke-width="1.4"/>
<circle cx="477.50" cy="341.50" r="3.0" fill="none" stroke="#ff7a2a" stroke-width="1.4"/>
<rect x="305.20" y="306.40" width="5.60" height="5.60" fill="none" stroke="#2020a0" stroke-width="1.5"/>
<rect x="306.70" y="338.70" width="5.60" height="5.60" fill="none" stroke="#2020a0" stroke-width="1.5"/>
<rect x="307.70" y="338.70" width="5.60" height="5.60" fill="none" stroke="#2020a0" stroke-width="1.5"/>
<rect x="328.90" y="338.70" width="5.60" height="5.60" fill="none" stroke="#2020a0" stroke-width="1.5"/>
<rect x="352.60" y="338.70" width="5.60" height="5.60" fill="none" stroke="#2020a0" stroke-width="1.5"/>
<rect x="402.50" y="338.70" width="5.60" height="5.60" fill="none" stroke="#2020a0" stroke-width="1.5"/>
<rect x="474.70" y="338.70" width="5.60" height="5.60" fill="none" stroke="#2020a0" stroke-width="1.5"/>
<polygon points="308.00,301.40 311.32,295.45 304.68,295.45" fill="none" stroke="#000" stroke-width="1.4"/>
<polygon points="310.90,297.50 314.22,291.55 307.57,291.55" fill="none" stroke="#000" stroke-width="1.4"/>
<polygon points="331.70,295.00 335.02,289.05 328.38,289.05" fill="none" stroke="#000" stroke-width="1.4"/>
<polygon points="355.40,304.90 358.72,298.95 352.07,298.95" fill="none" stroke="#000" stroke-width="1.4"/>
<polygon points="405.30,301.40 408.62,295.45 401.98,295.45" fill="none" stroke="#000" stroke-width="1.4"/>
<polygon points="477.50,300.40 480.82,294.45 474.18,294.45" fill="none" stroke="#000" stroke-width="1.4"/>
<line x1="41.60" y1="513.50" x2="41.60" y2="398.70" stroke="#000" stroke-width="1.6" stroke-linecap="butt"/>
<line x1="40.80" y1="512.70" x2="213.70" y2="512.70" stroke="#000" stroke-width="1.6" stroke-linecap="butt"/>
<line x1="41.60" y1="512.70" x2="41.60" y2="516.20" stroke="#000" stroke-width="1.6" stroke-linecap="butt"/>
<text x="39.29" y="525.50" font-size="8.40" font-weight="bold" fill="#000" xml:space="preserve">0</text>
<line x1="55.88" y1="512.70" x2="55.88" y2="516.20" stroke="#000" stroke-width="1.6" stroke-linecap="butt"/>
<text x="53.56" y="525.50" font-size="8.40" font-weight="bold" fill="#000" xml:space="preserve">7</text>
<line x1="70.15" y1="512.70" x2="70.15" y2="516.20" stroke="#000" stroke-width="1.6" stroke-linecap="butt"/>
<text x="65.24" y="525.50" font-size="8.40" font-weight="bold" fill="#000" xml:space="preserve">14</text>
<line x1="84.43" y1="512.70" x2="84.43" y2="516.20" stroke="#000" stroke-width="1.6" stroke-linecap="butt"/>
<text x="79.76" y="525.50" font-size="8.40" font-weight="bold" fill="#000" xml:space="preserve">21</text>
<line x1="98.70" y1="512.70" x2="98.70" y2="516.20" stroke="#000" stroke-width="1.6" stroke-linecap="butt"/>
<text x="94.04" y="525.50" font-size="8.40" font-weight="bold" fill="#000" xml:space="preserve">28</text>
<line x1="112.97" y1="512.70" x2="112.97" y2="516.20" stroke="#000" stroke-width="1.6" stroke-linecap="butt"/>
<text x="108.31" y="525.50" font-size="8.40" font-weight="bold" fill="#000" xml:space="preserve">35</text>
<line x1="127.25" y1="512.70" x2="127.25" y2="516.20" stroke="#000" stroke-width="1.6" stroke-linecap="butt"/>
<text x="122.67" y="525.50" font-size="8.40" font-weight="bold" fill="#000" xml:space="preserve">42</text>
<line x1="141.53" y1="512.70" x2="141.53" y2="516.20" stroke="#000" stroke-width="1.6" stroke-linecap="butt"/>
<text x="136.95" y="525.50" font-size="8.40" font-weight="bold" fill="#000" xml:space="preserve">49</text>
<line x1="155.80" y1="512.70" x2="155.80" y2="516.20" stroke="#000" stroke-width="1.6" stroke-linecap="butt"/>
<text x="151.18" y="525.50" font-size="8.40" font-weight="bold" fill="#000" xml:space="preserve">56</text>
<line x1="170.08" y1="512.70" x2="170.08" y2="516.20" stroke="#000" stroke-width="1.6" stroke-linecap="butt"/>
<text x="165.41" y="525.50" font-size="8.40" font-weight="bold" fill="#000" xml:space="preserve">63</text>
<line x1="184.35" y1="512.70" x2="184.35" y2="516.20" stroke="#000" stroke-width="1.6" stroke-linecap="butt"/>
<text x="179.69" y="525.50" font-size="8.40" font-weight="bold" fill="#000" xml:space="preserve">70</text>
<line x1="198.62" y1="512.70" x2="198.62" y2="516.20" stroke="#000" stroke-width="1.6" stroke-linecap="butt"/>
<text x="193.96" y="525.50" font-size="8.40" font-weight="bold" fill="#000" xml:space="preserve">77</text>
<line x1="212.90" y1="512.70" x2="212.90" y2="516.20" stroke="#000" stroke-width="1.6" stroke-linecap="butt"/>
<text x="208.11" y="525.50" font-size="8.40" font-weight="bold" fill="#000" xml:space="preserve">84</text>
<line x1="41.60" y1="399.50" x2="38.30" y2="399.50" stroke="#000" stroke-width="1.6" stroke-linecap="butt"/>
<text x="23.31" y="402.44" font-size="8.40" font-weight="bold" fill="#000" xml:space="preserve">100</text>
<line x1="41.60" y1="427.80" x2="38.30" y2="427.80" stroke="#000" stroke-width="1.6" stroke-linecap="butt"/>
<text x="28.01" y="430.74" font-size="8.40" font-weight="bold" fill="#000" xml:space="preserve">10</text>
<line x1="41.60" y1="456.10" x2="38.30" y2="456.10" stroke="#000" stroke-width="1.6" stroke-linecap="butt"/>
<text x="32.55" y="459.04" font-size="8.40" font-weight="bold" fill="#000" xml:space="preserve">1</text>
<line x1="41.60" y1="484.40" x2="38.30" y2="484.40" stroke="#000" stroke-width="1.6" stroke-linecap="butt"/>
<text x="25.58" y="487.34" font-size="8.40" font-weight="bold" fill="#000" xml:space="preserve">0.1</text>
<line x1="41.60" y1="512.70" x2="38.30" y2="512.70" stroke="#000" stroke-width="1.6" stroke-linecap="butt"/>
<text x="20.87" y="515.64" font-size="8.40" font-weight="bold" fill="#000" xml:space="preserve">0.01</text>
<line x1="41.60" y1="504.18" x2="39.60" y2="504.18" stroke="#000" stroke-width="1" stroke-linecap="butt"/>
<line x1="41.60" y1="499.20" x2="39.60" y2="499.20" stroke="#000" stroke-width="1" stroke-linecap="butt"/>
<line x1="41.60" y1="495.66" x2="39.60" y2="495.66" stroke="#000" stroke-width="1" stroke-linecap="butt"/>
<line x1="41.60" y1="492.92" x2="39.60" y2="492.92" stroke="#000" stroke-width="1" stroke-linecap="butt"/>
<line x1="41.60" y1="490.68" x2="39.60" y2="490.68" stroke="#000" stroke-width="1" stroke-linecap="butt"/>
<line x1="41.60" y1="488.78" x2="39.60" y2="488.78" stroke="#000" stroke-width="1" stroke-linecap="butt"/>
<line x1="41.60" y1="487.14" x2="39.60" y2="487.14" stroke="#000" stroke-width="1" stroke-linecap="butt"/>
<line x1="41.60" y1="485.69" x2="39.60" y2="485.69" stroke="#000" stroke-width="1" stroke-linecap="butt"/>
<line x1="41.60" y1="475.88" x2="39.60" y2="475.88" stroke="#000" stroke-width="1" stroke-linecap="butt"/>
<line x1="41.60" y1="470.90" x2="39.60" y2="470.90" stroke="#000" stroke-width="1" stroke-linecap="butt"/>
<line x1="41.60" y1="467.36" x2="39.60" y2="467.36" stroke="#000" stroke-width="1" stroke-linecap="butt"/>
<line x1="41.60" y1="464.62" x2="39.60" y2="464.62" stroke="#000" stroke-width="1" stroke-linecap="butt"/>
<line x1="41.60" y1="462.38" x2="39.60" y2="462.38" stroke="#000" stroke-width="1" stroke-linecap="butt"/>
<line x1="41.60" y1="460.48" x2="39.60" y2="460.48" stroke="#000" stroke-width="1" stroke-linecap="butt"/>
<line x1="41.60" y1="458.84" x2="39.60" y2="458.84" stroke="#000" stroke-width="1" stroke-linecap="butt"/>
<line x1="41.60" y1="457.39" x2="39.60" y2="457.39" stroke="#000" stroke-width="1" stroke-linecap="butt"/>
<line x1="41.60" y1="447.58" x2="39.60" y2="447.58" stroke="#000" stroke-width="1" stroke-linecap="butt"/>
<line x1="41.60" y1="442.60" x2="39.60" y2="442.60" stroke="#000" stroke-width="1" stroke-linecap="butt"/>
<line x1="41.60" y1="439.06" x2="39.60" y2="439.06" stroke="#000" stroke-width="1" stroke-linecap="butt"/>
<line x1="41.60" y1="436.32" x2="39.60" y2="436.32" stroke="#000" stroke-width="1" stroke-linecap="butt"/>
<line x1="41.60" y1="434.08" x2="39.60" y2="434.08" stroke="#000" stroke-width="1" stroke-linecap="butt"/>
<line x1="41.60" y1="432.18" x2="39.60" y2="432.18" stroke="#000" stroke-width="1" stroke-linecap="butt"/>
<line x1="41.60" y1="430.54" x2="39.60" y2="430.54" stroke="#000" stroke-width="1" stroke-linecap="butt"/>
<line x1="41.60" y1="429.09" x2="39.60" y2="429.09" stroke="#000" stroke-width="1" stroke-linecap="butt"/>
<line x1="41.60" y1="419.28" x2="39.60" y2="419.28" stroke="#000" stroke-width="1" stroke-linecap="butt"/>
<line x1="41.60" y1="414.30" x2="39.60" y2="414.30" stroke="#000" stroke-width="1" stroke-linecap="butt"/>
<line x1="41.60" y1="410.76" x2="39.60" y2="410.76" stroke="#000" stroke-width="1" stroke-linecap="butt"/>
<line x1="41.60" y1="408.02" x2="39.60" y2="408.02" stroke="#000" stroke-width="1" stroke-linecap="butt"/>
<line x1="41.60" y1="405.78" x2="39.60" y2="405.78" stroke="#000" stroke-width="1" stroke-linecap="butt"/>
<line x1="41.60" y1="403.88" x2="39.60" y2="403.88" stroke="#000" stroke-width="1" stroke-linecap="butt"/>
<line x1="41.60" y1="402.24" x2="39.60" y2="402.24" stroke="#000" stroke-width="1" stroke-linecap="butt"/>
<line x1="41.60" y1="400.79" x2="39.60" y2="400.79" stroke="#000" stroke-width="1" stroke-linecap="butt"/>
<text x="105.21" y="541.00" font-size="9.19" font-weight="bold" fill="#000" xml:space="preserve">Time (day)</text>
<text x="14.50" y="521.42" font-size="9.39" font-weight="bold" fill="#000" transform="rotate(-90 14.50 521.42)" xml:space="preserve">Serum concentration (ug/mL)</text>
<text x="55.49" y="394.30" font-size="15.80" font-weight="bold" fill="#000" xml:space="preserve">E</text>
<line x1="48.00" y1="447.00" x2="48.00" y2="463.60" stroke="#1c1c9a" stroke-width="1.4" stroke-linecap="butt"/>
<line x1="45.80" y1="447.00" x2="50.20" y2="447.00" stroke="#1c1c9a" stroke-width="1.4" stroke-linecap="butt"/>
<line x1="45.80" y1="463.60" x2="50.20" y2="463.60" stroke="#1c1c9a" stroke-width="1.4" stroke-linecap="butt"/>
<line x1="56.30" y1="465.40" x2="56.30" y2="491.50" stroke="#1c1c9a" stroke-width="1.4" stroke-linecap="butt"/>
<line x1="54.10" y1="465.40" x2="58.50" y2="465.40" stroke="#1c1c9a" stroke-width="1.4" stroke-linecap="butt"/>
<line x1="54.10" y1="491.50" x2="58.50" y2="491.50" stroke="#1c1c9a" stroke-width="1.4" stroke-linecap="butt"/>
<line x1="56.30" y1="421.70" x2="56.30" y2="430.00" stroke="#1c1c9a" stroke-width="1.4" stroke-linecap="butt"/>
<line x1="54.10" y1="421.70" x2="58.50" y2="421.70" stroke="#1c1c9a" stroke-width="1.4" stroke-linecap="butt"/>
<line x1="54.10" y1="430.00" x2="58.50" y2="430.00" stroke="#1c1c9a" stroke-width="1.4" stroke-linecap="butt"/>
<line x1="57.90" y1="431.60" x2="57.90" y2="443.50" stroke="#1c1c9a" stroke-width="1.4" stroke-linecap="butt"/>
<line x1="55.70" y1="431.60" x2="60.10" y2="431.60" stroke="#1c1c9a" stroke-width="1.4" stroke-linecap="butt"/>
<line x1="55.70" y1="443.50" x2="60.10" y2="443.50" stroke="#1c1c9a" stroke-width="1.4" stroke-linecap="butt"/>
<line x1="70.50" y1="420.50" x2="70.50" y2="428.00" stroke="#1c1c9a" stroke-width="1.4" stroke-linecap="butt"/>
<line x1="68.30" y1="420.50" x2="72.70" y2="420.50" stroke="#1c1c9a" stroke-width="1.4" stroke-linecap="butt"/>
<line x1="68.30" y1="428.00" x2="72.70" y2="428.00" stroke="#1c1c9a" stroke-width="1.4" stroke-linecap="butt"/>
<line x1="84.20" y1="445.80" x2="84.20" y2="456.00" stroke="#1c1c9a" stroke-width="1.4" stroke-linecap="butt"/>
<line x1="82.00" y1="445.80" x2="86.40" y2="445.80" stroke="#1c1c9a" stroke-width="1.4" stroke-linecap="butt"/>
<line x1="82.00" y1="456.00" x2="86.40" y2="456.00" stroke="#1c1c9a" stroke-width="1.4" stroke-linecap="butt"/>
<line x1="90.60" y1="430.00" x2="90.60" y2="451.30" stroke="#1c1c9a" stroke-width="1.4" stroke-linecap="butt"/>
<line x1="88.40" y1="430.00" x2="92.80" y2="430.00" stroke="#1c1c9a" stroke-width="1.4" stroke-linecap="butt"/>
<line x1="88.40" y1="451.30" x2="92.80" y2="451.30" stroke="#1c1c9a" stroke-width="1.4" stroke-linecap="butt"/>
<line x1="98.80" y1="445.80" x2="98.80" y2="460.70" stroke="#1c1c9a" stroke-width="1.4" stroke-linecap="butt"/>
<line x1="96.60" y1="445.80" x2="101.00" y2="445.80" stroke="#1c1c9a" stroke-width="1.4" stroke-linecap="butt"/>
<line x1="96.60" y1="460.70" x2="101.00" y2="460.70" stroke="#1c1c9a" stroke-width="1.4" stroke-linecap="butt"/>
<line x1="113.00" y1="463.60" x2="113.00" y2="474.20" stroke="#1c1c9a" stroke-width="1.4" stroke-linecap="butt"/>
<line x1="110.80" y1="463.60" x2="115.20" y2="463.60" stroke="#1c1c9a" stroke-width="1.4" stroke-linecap="butt"/>
<line x1="110.80" y1="474.20" x2="115.20" y2="474.20" stroke="#1c1c9a" stroke-width="1.4" stroke-linecap="butt"/>
<line x1="41.70" y1="419.00" x2="41.70" y2="426.00" stroke="#1c1c9a" stroke-width="1.4" stroke-linecap="butt"/>
<line x1="39.50" y1="419.00" x2="43.90" y2="419.00" stroke="#1c1c9a" stroke-width="1.4" stroke-linecap="butt"/>
<line x1="39.50" y1="426.00" x2="43.90" y2="426.00" stroke="#1c1c9a" stroke-width="1.4" stroke-linecap="butt"/>
<line x1="84.50" y1="418.00" x2="84.50" y2="426.00" stroke="#1c1c9a" stroke-width="1.4" stroke-linecap="butt"/>
<line x1="82.30" y1="418.00" x2="86.70" y2="418.00" stroke="#1c1c9a" stroke-width="1.4" stroke-linecap="butt"/>
<line x1="82.30" y1="426.00" x2="86.70" y2="426.00" stroke="#1c1c9a" stroke-width="1.4" stroke-linecap="butt"/>
<polyline points="41.70,422.50 42.50,426.50 43.00,430.50 44.00,434.00 48.00,453.60 56.30,472.50 56.30,425.70 57.90,434.70 70.50,456.00 70.50,423.80 72.10,434.70 84.20,454.10 84.50,422.20 85.50,428.00 86.50,430.50 90.60,437.10 98.80,451.30 113.00,467.10 141.60,476.70 200.70,489.30" fill="none" stroke="#1c1c9a" stroke-width="1.8" stroke-linecap="butt" stroke-linejoin="round"/>
<polygon points="41.70,419.70 44.36,424.46 39.04,424.46" fill="none" stroke="#1c1c9a" stroke-width="1.4"/>
<polygon points="42.50,423.70 45.16,428.46 39.84,428.46" fill="none" stroke="#1c1c9a" stroke-width="1.4"/>
<polygon points="43.00,427.70 45.66,432.46 40.34,432.46" fill="none" stroke="#1c1c9a" stroke-width="1.4"/>
<polygon points="44.00,431.20 46.66,435.96 41.34,435.96" fill="none" stroke="#1c1c9a" stroke-width="1.4"/>
<polygon points="48.00,450.80 50.66,455.56 45.34,455.56" fill="none" stroke="#1c1c9a" stroke-width="1.4"/>
<polygon points="56.30,469.70 58.96,474.46 53.64,474.46" fill="none" stroke="#1c1c9a" stroke-width="1.4"/>
<polygon points="56.30,422.90 58.96,427.66 53.64,427.66" fill="none" stroke="#1c1c9a" stroke-width="1.4"/>
<polygon points="57.90,431.90 60.56,436.66 55.24,436.66" fill="none" stroke="#1c1c9a" stroke-width="1.4"/>
<polygon points="70.50,453.20 73.16,457.96 67.84,457.96" fill="none" stroke="#1c1c9a" stroke-width="1.4"/>
<polygon points="70.50,421.00 73.16,425.76 67.84,425.76" fill="none" stroke="#1c1c9a" stroke-width="1.4"/>
<polygon points="72.10,431.90 74.76,436.66 69.44,436.66" fill="none" stroke="#1c1c9a" stroke-width="1.4"/>
<polygon points="84.20,451.30 86.86,456.06 81.54,456.06" fill="none" stroke="#1c1c9a" stroke-width="1.4"/>
<polygon points="84.50,419.40 87.16,424.16 81.84,424.16" fill="none" stroke="#1c1c9a" stroke-width="1.4"/>
<polygon points="85.50,425.20 88.16,429.96 82.84,429.96" fill="none" stroke="#1c1c9a" stroke-width="1.4"/>
<polygon points="86.50,427.70 89.16,432.46 83.84,432.46" fill="none" stroke="#1c1c9a" stroke-width="1.4"/>
<polygon points="90.60,434.30 93.26,439.06 87.94,439.06" fill="none" stroke="#1c1c9a" stroke-width="1.4"/>
<polygon points="98.80,448.50 101.46,453.26 96.14,453.26" fill="none" stroke="#1c1c9a" stroke-width="1.4"/>
<polygon points="113.00,464.30 115.66,469.06 110.34,469.06" fill="none" stroke="#1c1c9a" stroke-width="1.4"/>
<polygon points="141.60,473.90 144.26,478.66 138.94,478.66" fill="none" stroke="#1c1c9a" stroke-width="1.4"/>
<polygon points="200.70,486.50 203.36,491.26 198.04,491.26" fill="none" stroke="#1c1c9a" stroke-width="1.4"/>
<line x1="309.00" y1="515.20" x2="309.00" y2="394.70" stroke="#000" stroke-width="1.6" stroke-linecap="butt"/>
<line x1="308.20" y1="514.40" x2="485.50" y2="514.40" stroke="#000" stroke-width="1.6" stroke-linecap="butt"/>
<line x1="309.00" y1="514.40" x2="309.00" y2="518.90" stroke="#000" stroke-width="1.6" stroke-linecap="butt"/>
<text x="306.72" y="529.00" font-size="8.30" font-weight="bold" fill="#000" xml:space="preserve">0</text>
<line x1="323.64" y1="514.40" x2="323.64" y2="518.90" stroke="#000" stroke-width="1.6" stroke-linecap="butt"/>
<text x="321.36" y="529.00" font-size="8.30" font-weight="bold" fill="#000" xml:space="preserve">7</text>
<line x1="338.28" y1="514.40" x2="338.28" y2="518.90" stroke="#000" stroke-width="1.6" stroke-linecap="butt"/>
<text x="333.43" y="529.00" font-size="8.30" font-weight="bold" fill="#000" xml:space="preserve">14</text>
<line x1="352.93" y1="514.40" x2="352.93" y2="518.90" stroke="#000" stroke-width="1.6" stroke-linecap="butt"/>
<text x="348.32" y="529.00" font-size="8.30" font-weight="bold" fill="#000" xml:space="preserve">21</text>
<line x1="367.57" y1="514.40" x2="367.57" y2="518.90" stroke="#000" stroke-width="1.6" stroke-linecap="butt"/>
<text x="362.96" y="529.00" font-size="8.30" font-weight="bold" fill="#000" xml:space="preserve">28</text>
<line x1="382.21" y1="514.40" x2="382.21" y2="518.90" stroke="#000" stroke-width="1.6" stroke-linecap="butt"/>
<text x="377.60" y="529.00" font-size="8.30" font-weight="bold" fill="#000" xml:space="preserve">35</text>
<line x1="396.85" y1="514.40" x2="396.85" y2="518.90" stroke="#000" stroke-width="1.6" stroke-linecap="butt"/>
<text x="392.33" y="529.00" font-size="8.30" font-weight="bold" fill="#000" xml:space="preserve">42</text>
<line x1="411.49" y1="514.40" x2="411.49" y2="518.90" stroke="#000" stroke-width="1.6" stroke-linecap="butt"/>
<text x="406.97" y="529.00" font-size="8.30" font-weight="bold" fill="#000" xml:space="preserve">49</text>
<line x1="426.13" y1="514.40" x2="426.13" y2="518.90" stroke="#000" stroke-width="1.6" stroke-linecap="butt"/>
<text x="421.57" y="529.00" font-size="8.30" font-weight="bold" fill="#000" xml:space="preserve">56</text>
<line x1="440.77" y1="514.40" x2="440.77" y2="518.90" stroke="#000" stroke-width="1.6" stroke-linecap="butt"/>
<text x="436.17" y="529.00" font-size="8.30" font-weight="bold" fill="#000" xml:space="preserve">63</text>
<line x1="455.42" y1="514.40" x2="455.42" y2="518.90" stroke="#000" stroke-width="1.6" stroke-linecap="butt"/>
<text x="450.81" y="529.00" font-size="8.30" font-weight="bold" fill="#000" xml:space="preserve">70</text>
<line x1="470.06" y1="514.40" x2="470.06" y2="518.90" stroke="#000" stroke-width="1.6" stroke-linecap="butt"/>
<text x="465.45" y="529.00" font-size="8.30" font-weight="bold" fill="#000" xml:space="preserve">77</text>
<line x1="484.70" y1="514.40" x2="484.70" y2="518.90" stroke="#000" stroke-width="1.6" stroke-linecap="butt"/>
<text x="479.97" y="529.00" font-size="8.30" font-weight="bold" fill="#000" xml:space="preserve">84</text>
<line x1="309.00" y1="514.40" x2="304.00" y2="514.40" stroke="#000" stroke-width="1.6" stroke-linecap="butt"/>
<text x="297.97" y="517.30" font-size="8.30" font-weight="bold" fill="#000" xml:space="preserve">0</text>
<line x1="309.00" y1="490.62" x2="304.00" y2="490.62" stroke="#000" stroke-width="1.6" stroke-linecap="butt"/>
<text x="284.11" y="493.52" font-size="8.30" font-weight="bold" fill="#000" xml:space="preserve">1000</text>
<line x1="309.00" y1="466.84" x2="304.00" y2="466.84" stroke="#000" stroke-width="1.6" stroke-linecap="butt"/>
<text x="284.11" y="469.74" font-size="8.30" font-weight="bold" fill="#000" xml:space="preserve">2000</text>
<line x1="309.00" y1="443.06" x2="304.00" y2="443.06" stroke="#000" stroke-width="1.6" stroke-linecap="butt"/>
<text x="284.11" y="445.96" font-size="8.30" font-weight="bold" fill="#000" xml:space="preserve">3000</text>
<line x1="309.00" y1="419.28" x2="304.00" y2="419.28" stroke="#000" stroke-width="1.6" stroke-linecap="butt"/>
<text x="284.11" y="422.18" font-size="8.30" font-weight="bold" fill="#000" xml:space="preserve">4000</text>
<line x1="309.00" y1="395.50" x2="304.00" y2="395.50" stroke="#000" stroke-width="1.6" stroke-linecap="butt"/>
<text x="284.11" y="398.40" font-size="8.30" font-weight="bold" fill="#000" xml:space="preserve">5000</text>
<text x="371.70" y="543.50" font-size="9.65" font-weight="bold" fill="#000" xml:space="preserve">Time (days)</text>
<text x="265.00" y="522.75" font-size="9.70" font-weight="bold" fill="#000" transform="rotate(-90 265.00 522.75)" xml:space="preserve">CD20+ B-Lymphocyte counts</text>
<text x="276.80" y="464.18" font-size="9.57" font-weight="bold" fill="#000" transform="rotate(-90 276.80 464.18)" xml:space="preserve">(/uL)</text>
<text x="314.89" y="393.90" font-size="15.80" font-weight="bold" fill="#000" xml:space="preserve">F</text>
<line x1="318.50" y1="407.40" x2="331.10" y2="407.40" stroke="#b97a30" stroke-width="1.2" stroke-linecap="butt"/>
<rect x="322.10" y="404.60" width="5.60" height="5.60" fill="#fff" stroke="#b97a30" stroke-width="1.3"/>
<line x1="318.50" y1="428.40" x2="331.10" y2="428.40" stroke="#20209a" stroke-width="1.2" stroke-linecap="butt"/>
<polygon points="324.90,425.60 327.56,430.36 322.24,430.36" fill="#fff" stroke="#20209a" stroke-width="1.3"/>
<text x="339.00" y="411.00" font-size="9.50" fill="#000" xml:space="preserve">Vehicle (Control)</text>
<text x="339.10" y="427.20" font-size="9.70" fill="#000" xml:space="preserve">Anti-cyCD79b/CD3, 1 mg/kg,</text>
<text x="340.63" y="438.50" font-size="9.65" fill="#000" xml:space="preserve">IV QW (total 4 doses)</text>
<polyline points="309.50,491.50 309.50,514.30 312.00,514.30 324.50,514.30 326.50,514.30 338.70,514.30 353.60,514.30 368.50,514.30 383.30,514.30 412.70,511.40 473.90,448.60" fill="none" stroke="#20209a" stroke-width="1.2" stroke-linecap="butt" stroke-linejoin="round"/>
<line x1="309.50" y1="485.50" x2="309.50" y2="496.90" stroke="#20209a" stroke-width="1" stroke-linecap="butt"/>
<line x1="306.50" y1="485.50" x2="312.50" y2="485.50" stroke="#20209a" stroke-width="1" stroke-linecap="butt"/>
<line x1="306.50" y1="496.90" x2="312.50" y2="496.90" stroke="#20209a" stroke-width="1" stroke-linecap="butt"/>
<line x1="412.70" y1="506.70" x2="412.70" y2="514.00" stroke="#20209a" stroke-width="1" stroke-linecap="butt"/>
<line x1="409.70" y1="506.70" x2="415.70" y2="506.70" stroke="#20209a" stroke-width="1" stroke-linecap="butt"/>
<line x1="409.70" y1="514.00" x2="415.70" y2="514.00" stroke="#20209a" stroke-width="1" stroke-linecap="butt"/>
<line x1="473.90" y1="407.20" x2="473.90" y2="483.60" stroke="#20209a" stroke-width="1" stroke-linecap="butt"/>
<line x1="470.90" y1="407.20" x2="476.90" y2="407.20" stroke="#20209a" stroke-width="1" stroke-linecap="butt"/>
<line x1="470.90" y1="483.60" x2="476.90" y2="483.60" stroke="#20209a" stroke-width="1" stroke-linecap="butt"/>
<line x1="309.50" y1="467.30" x2="309.50" y2="506.40" stroke="#d2a870" stroke-width="1.2" stroke-linecap="butt"/>
<line x1="306.50" y1="467.30" x2="312.50" y2="467.30" stroke="#d2a870" stroke-width="1.2" stroke-linecap="butt"/>
<line x1="306.50" y1="506.40" x2="312.50" y2="506.40" stroke="#d2a870" stroke-width="1.2" stroke-linecap="butt"/>
<line x1="324.50" y1="462.70" x2="324.50" y2="504.90" stroke="#d2a870" stroke-width="1.2" stroke-linecap="butt"/>
<line x1="321.50" y1="462.70" x2="327.50" y2="462.70" stroke="#d2a870" stroke-width="1.2" stroke-linecap="butt"/>
<line x1="321.50" y1="504.90" x2="327.50" y2="504.90" stroke="#d2a870" stroke-width="1.2" stroke-linecap="butt"/>
<line x1="326.90" y1="462.70" x2="326.90" y2="495.00" stroke="#d2a870" stroke-width="1.2" stroke-linecap="butt"/>
<line x1="323.90" y1="462.70" x2="329.90" y2="462.70" stroke="#d2a870" stroke-width="1.2" stroke-linecap="butt"/>
<line x1="323.90" y1="495.00" x2="329.90" y2="495.00" stroke="#d2a870" stroke-width="1.2" stroke-linecap="butt"/>
<line x1="338.70" y1="463.60" x2="338.70" y2="490.40" stroke="#d2a870" stroke-width="1.2" stroke-linecap="butt"/>
<line x1="335.70" y1="463.60" x2="341.70" y2="463.60" stroke="#d2a870" stroke-width="1.2" stroke-linecap="butt"/>
<line x1="335.70" y1="490.40" x2="341.70" y2="490.40" stroke="#d2a870" stroke-width="1.2" stroke-linecap="butt"/>
<line x1="353.60" y1="465.50" x2="353.60" y2="496.40" stroke="#d2a870" stroke-width="1.2" stroke-linecap="butt"/>
<line x1="350.60" y1="465.50" x2="356.60" y2="465.50" stroke="#d2a870" stroke-width="1.2" stroke-linecap="butt"/>
<line x1="350.60" y1="496.40" x2="356.60" y2="496.40" stroke="#d2a870" stroke-width="1.2" stroke-linecap="butt"/>
<line x1="368.50" y1="482.40" x2="368.50" y2="499.50" stroke="#d2a870" stroke-width="1.2" stroke-linecap="butt"/>
<line x1="365.50" y1="482.40" x2="371.50" y2="482.40" stroke="#d2a870" stroke-width="1.2" stroke-linecap="butt"/>
<line x1="365.50" y1="499.50" x2="371.50" y2="499.50" stroke="#d2a870" stroke-width="1.2" stroke-linecap="butt"/>
<line x1="383.30" y1="484.90" x2="383.30" y2="498.20" stroke="#d2a870" stroke-width="1.2" stroke-linecap="butt"/>
<line x1="380.30" y1="484.90" x2="386.30" y2="484.90" stroke="#d2a870" stroke-width="1.2" stroke-linecap="butt"/>
<line x1="380.30" y1="498.20" x2="386.30" y2="498.20" stroke="#d2a870" stroke-width="1.2" stroke-linecap="butt"/>
<line x1="412.70" y1="474.30" x2="412.70" y2="501.50" stroke="#d2a870" stroke-width="1.2" stroke-linecap="butt"/>
<line x1="409.70" y1="474.30" x2="415.70" y2="474.30" stroke="#d2a870" stroke-width="1.2" stroke-linecap="butt"/>
<line x1="409.70" y1="501.50" x2="415.70" y2="501.50" stroke="#d2a870" stroke-width="1.2" stroke-linecap="butt"/>
<line x1="473.90" y1="483.60" x2="473.90" y2="501.50" stroke="#d2a870" stroke-width="1.2" stroke-linecap="butt"/>
<line x1="470.90" y1="483.60" x2="476.90" y2="483.60" stroke="#d2a870" stroke-width="1.2" stroke-linecap="butt"/>
<line x1="470.90" y1="501.50" x2="476.90" y2="501.50" stroke="#d2a870" stroke-width="1.2" stroke-linecap="butt"/>
<polyline points="309.50,491.50 309.50,481.30 312.00,480.90 324.50,477.30 324.50,493.60 326.90,477.60 338.70,477.30 353.60,480.90 368.50,490.90 383.30,491.80 412.70,488.20 473.90,492.80" fill="none" stroke="#b97a30" stroke-width="1.2" stroke-linecap="butt" stroke-linejoin="round"/>
<rect x="306.80" y="488.80" width="5.40" height="5.40" fill="none" stroke="#b97a30" stroke-width="1.3"/>
<rect x="306.80" y="478.60" width="5.40" height="5.40" fill="none" stroke="#b97a30" stroke-width="1.3"/>
<rect x="309.30" y="478.20" width="5.40" height="5.40" fill="none" stroke="#b97a30" stroke-width="1.3"/>
<rect x="321.80" y="474.60" width="5.40" height="5.40" fill="none" stroke="#b97a30" stroke-width="1.3"/>
<rect x="321.80" y="490.90" width="5.40" height="5.40" fill="none" stroke="#b97a30" stroke-width="1.3"/>
<rect x="324.20" y="474.90" width="5.40" height="5.40" fill="none" stroke="#b97a30" stroke-width="1.3"/>
<rect x="336.00" y="474.60" width="5.40" height="5.40" fill="none" stroke="#b97a30" stroke-width="1.3"/>
<rect x="350.90" y="478.20" width="5.40" height="5.40" fill="none" stroke="#b97a30" stroke-width="1.3"/>
<rect x="365.80" y="488.20" width="5.40" height="5.40" fill="none" stroke="#b97a30" stroke-width="1.3"/>
<rect x="380.60" y="489.10" width="5.40" height="5.40" fill="none" stroke="#b97a30" stroke-width="1.3"/>
<rect x="410.00" y="485.50" width="5.40" height="5.40" fill="none" stroke="#b97a30" stroke-width="1.3"/>
<rect x="471.20" y="490.10" width="5.40" height="5.40" fill="none" stroke="#b97a30" stroke-width="1.3"/>
<polygon points="309.50,489.20 311.69,493.11 307.31,493.11" fill="#20209a" stroke="#20209a" stroke-width="1.3"/>
<polygon points="309.50,511.60 312.06,516.19 306.94,516.19" fill="#20209a" stroke="#20209a" stroke-width="1.3"/>
<polygon points="312.00,511.60 314.56,516.19 309.44,516.19" fill="#20209a" stroke="#20209a" stroke-width="1.3"/>
<polygon points="324.50,511.60 327.06,516.19 321.94,516.19" fill="#20209a" stroke="#20209a" stroke-width="1.3"/>
<polygon points="326.50,511.60 329.06,516.19 323.94,516.19" fill="#20209a" stroke="#20209a" stroke-width="1.3"/>
<polygon points="338.70,511.60 341.26,516.19 336.13,516.19" fill="#20209a" stroke="#20209a" stroke-width="1.3"/>
<polygon points="353.60,511.60 356.17,516.19 351.04,516.19" fill="#20209a" stroke="#20209a" stroke-width="1.3"/>
<polygon points="368.50,511.60 371.06,516.19 365.94,516.19" fill="#20209a" stroke="#20209a" stroke-width="1.3"/>
<polygon points="383.30,511.60 385.87,516.19 380.74,516.19" fill="#20209a" stroke="#20209a" stroke-width="1.3"/>
<polygon points="412.70,508.70 415.26,513.29 410.13,513.29" fill="#20209a" stroke="#20209a" stroke-width="1.3"/>
<polygon points="473.90,445.90 476.46,450.49 471.33,450.49" fill="none" stroke="#20209a" stroke-width="1.3"/>
</svg></body></html>
